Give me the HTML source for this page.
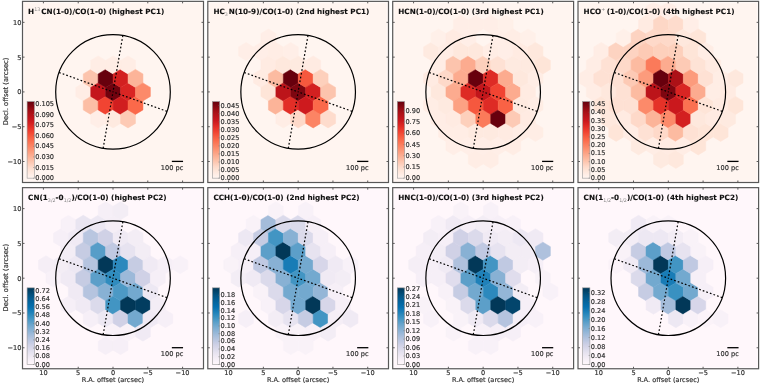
<!DOCTYPE html>
<html><head><meta charset="utf-8"><style>
html,body{margin:0;padding:0;background:#fff;width:760px;height:383px;overflow:hidden}
svg{display:block}
text{font-family:"DejaVu Sans","Liberation Sans",sans-serif;fill:#222}
.title{font-weight:bold;font-size:7.25px;fill:#111;stroke:#111;stroke-width:0.1px}
.title .sup,.title .sub{font-weight:normal;font-size:4.8px;fill:#888;stroke:none}
.lab{font-size:6.6px;fill:#333;stroke:#333;stroke-width:0.18px}
.cb{font-size:6.6px;fill:#333;stroke:#333;stroke-width:0.18px}
.dl{stroke:#000;stroke-width:1.2;stroke-dasharray:1.7 2.1;fill:none}
.tk{stroke:#333;stroke-width:0.8}
</style></head><body>
<svg width="760" height="383" viewBox="0 0 760 383">
<defs><linearGradient id="g0" x1="0" y1="0" x2="0" y2="1"><stop offset="0.000" stop-color="#67000d"/><stop offset="0.050" stop-color="#7e0610"/><stop offset="0.100" stop-color="#980c13"/><stop offset="0.150" stop-color="#ac1117"/><stop offset="0.200" stop-color="#bc141a"/><stop offset="0.250" stop-color="#ca181d"/><stop offset="0.300" stop-color="#d92523"/><stop offset="0.350" stop-color="#e83429"/><stop offset="0.400" stop-color="#f14432"/><stop offset="0.450" stop-color="#f6583e"/><stop offset="0.500" stop-color="#fb694a"/><stop offset="0.550" stop-color="#fb7a5a"/><stop offset="0.600" stop-color="#fc8a6a"/><stop offset="0.650" stop-color="#fc9b7c"/><stop offset="0.700" stop-color="#fcab8f"/><stop offset="0.750" stop-color="#fcbba1"/><stop offset="0.800" stop-color="#fdcab5"/><stop offset="0.850" stop-color="#fed9c9"/><stop offset="0.900" stop-color="#fee5d8"/><stop offset="0.950" stop-color="#ffede5"/><stop offset="1.000" stop-color="#fff5f0"/></linearGradient><linearGradient id="g1" x1="0" y1="0" x2="0" y2="1"><stop offset="0.000" stop-color="#023858"/><stop offset="0.050" stop-color="#03456c"/><stop offset="0.100" stop-color="#045382"/><stop offset="0.150" stop-color="#045e94"/><stop offset="0.200" stop-color="#0567a2"/><stop offset="0.250" stop-color="#056faf"/><stop offset="0.300" stop-color="#187cb6"/><stop offset="0.350" stop-color="#2c89bd"/><stop offset="0.400" stop-color="#4295c3"/><stop offset="0.450" stop-color="#5c9fc9"/><stop offset="0.500" stop-color="#73a9cf"/><stop offset="0.550" stop-color="#88b1d4"/><stop offset="0.600" stop-color="#9cb9d9"/><stop offset="0.650" stop-color="#afc1dd"/><stop offset="0.700" stop-color="#c0c9e2"/><stop offset="0.750" stop-color="#d0d1e6"/><stop offset="0.800" stop-color="#dbdaeb"/><stop offset="0.850" stop-color="#e7e3f0"/><stop offset="0.900" stop-color="#f0eaf4"/><stop offset="0.950" stop-color="#f8f1f8"/><stop offset="1.000" stop-color="#fff7fb"/></linearGradient></defs>
<rect x="0" y="0" width="760" height="383" fill="#fff"/>
<rect x="22.50" y="1.35" width="181.00" height="181.15" fill="#fff5f0"/>
<clipPath id="cp0"><rect x="22.50" y="1.35" width="181.00" height="181.15"/></clipPath>
<g clip-path="url(#cp0)">
<path d="M90.72,87.42 90.72,96.42 83.26,100.92 75.80,96.42 75.80,87.42 83.26,82.92Z" fill="#ffede5" stroke="#ffede5" stroke-width="0.5"/>
<path d="M98.18,73.92 98.18,82.92 90.72,87.42 83.26,82.92 83.26,73.92 90.72,69.42Z" fill="#fcc4ad" stroke="#fcc4ad" stroke-width="0.5"/>
<path d="M98.18,100.92 98.18,109.92 90.72,114.42 83.26,109.92 83.26,100.92 90.72,96.42Z" fill="#fcbea5" stroke="#fcbea5" stroke-width="0.5"/>
<path d="M105.64,60.42 105.64,69.42 98.18,73.92 90.72,69.42 90.72,60.42 98.18,55.92Z" fill="#ffede5" stroke="#ffede5" stroke-width="0.5"/>
<path d="M105.64,87.42 105.64,96.42 98.18,100.92 90.72,96.42 90.72,87.42 98.18,82.92Z" fill="#c4161c" stroke="#c4161c" stroke-width="0.5"/>
<path d="M105.64,114.42 105.64,123.42 98.18,127.92 90.72,123.42 90.72,114.42 98.18,109.92Z" fill="#ffeee7" stroke="#ffeee7" stroke-width="0.5"/>
<path d="M113.10,73.92 113.10,82.92 105.64,87.42 98.18,82.92 98.18,73.92 105.64,69.42Z" fill="#67000d" stroke="#67000d" stroke-width="0.5"/>
<path d="M113.10,100.92 113.10,109.92 105.64,114.42 98.18,109.92 98.18,100.92 105.64,96.42Z" fill="#f14432" stroke="#f14432" stroke-width="0.5"/>
<path d="M120.56,60.42 120.56,69.42 113.10,73.92 105.64,69.42 105.64,60.42 113.10,55.92Z" fill="#ffede5" stroke="#ffede5" stroke-width="0.5"/>
<path d="M120.56,87.42 120.56,96.42 113.10,100.92 105.64,96.42 105.64,87.42 113.10,82.92Z" fill="#71020e" stroke="#71020e" stroke-width="0.5"/>
<path d="M120.56,114.42 120.56,123.42 113.10,127.92 105.64,123.42 105.64,114.42 113.10,109.92Z" fill="#feeae0" stroke="#feeae0" stroke-width="0.5"/>
<path d="M128.02,73.92 128.02,82.92 120.56,87.42 113.10,82.92 113.10,73.92 120.56,69.42Z" fill="#d32020" stroke="#d32020" stroke-width="0.5"/>
<path d="M128.02,100.92 128.02,109.92 120.56,114.42 113.10,109.92 113.10,100.92 120.56,96.42Z" fill="#d11e1f" stroke="#d11e1f" stroke-width="0.5"/>
<path d="M135.48,60.42 135.48,69.42 128.02,73.92 120.56,69.42 120.56,60.42 128.02,55.92Z" fill="#ffede5" stroke="#ffede5" stroke-width="0.5"/>
<path d="M135.48,87.42 135.48,96.42 128.02,100.92 120.56,96.42 120.56,87.42 128.02,82.92Z" fill="#d92523" stroke="#d92523" stroke-width="0.5"/>
<path d="M135.48,114.42 135.48,123.42 128.02,127.92 120.56,123.42 120.56,114.42 128.02,109.92Z" fill="#fdcab5" stroke="#fdcab5" stroke-width="0.5"/>
<path d="M142.94,73.92 142.94,82.92 135.48,87.42 128.02,82.92 128.02,73.92 135.48,69.42Z" fill="#fcb499" stroke="#fcb499" stroke-width="0.5"/>
<path d="M142.94,100.92 142.94,109.92 135.48,114.42 128.02,109.92 128.02,100.92 135.48,96.42Z" fill="#fb694a" stroke="#fb694a" stroke-width="0.5"/>
<path d="M150.40,87.42 150.40,96.42 142.94,100.92 135.48,96.42 135.48,87.42 142.94,82.92Z" fill="#fc8a6a" stroke="#fc8a6a" stroke-width="0.5"/>
</g>
<rect x="23.90" y="2.75" width="178.20" height="178.35" fill="none" stroke="#fff" stroke-opacity="0.55" stroke-width="1"/>
<circle cx="113.00" cy="91.92" r="57.3" fill="none" stroke="#000" stroke-width="1.2"/>
<path class="dl" d="M122.85,35.48L113.00,91.92M103.15,148.37L113.00,91.92"/>
<path class="dl" d="M59.09,72.52L113.00,91.92M166.91,111.33L113.00,91.92"/>
<rect x="27.10" y="101.55" width="7.30" height="76.60" fill="url(#g0)" stroke="#999" stroke-width="0.6"/>
<line x1="33.10" y1="178.15" x2="34.40" y2="178.15" stroke="#777" stroke-width="0.5"/>
<text class="cb" x="35.20" y="180.20">0.000</text>
<line x1="33.10" y1="167.55" x2="34.40" y2="167.55" stroke="#777" stroke-width="0.5"/>
<text class="cb" x="35.20" y="169.60">0.015</text>
<line x1="33.10" y1="156.95" x2="34.40" y2="156.95" stroke="#777" stroke-width="0.5"/>
<text class="cb" x="35.20" y="159.00">0.030</text>
<line x1="33.10" y1="146.35" x2="34.40" y2="146.35" stroke="#777" stroke-width="0.5"/>
<text class="cb" x="35.20" y="148.40">0.045</text>
<line x1="33.10" y1="135.75" x2="34.40" y2="135.75" stroke="#777" stroke-width="0.5"/>
<text class="cb" x="35.20" y="137.80">0.060</text>
<line x1="33.10" y1="125.15" x2="34.40" y2="125.15" stroke="#777" stroke-width="0.5"/>
<text class="cb" x="35.20" y="127.20">0.075</text>
<line x1="33.10" y1="114.55" x2="34.40" y2="114.55" stroke="#777" stroke-width="0.5"/>
<text class="cb" x="35.20" y="116.60">0.090</text>
<line x1="33.10" y1="103.95" x2="34.40" y2="103.95" stroke="#777" stroke-width="0.5"/>
<text class="cb" x="35.20" y="106.00">0.105</text>
<line x1="171.85" y1="161.40" x2="183.05" y2="161.40" stroke="#000" stroke-width="1.3"/>
<text class="lab" x="183.30" y="169.55" text-anchor="end">100 pc</text>
<text class="title" x="28.10" y="13.65">H<tspan class="sup" dy="-2.6">13</tspan><tspan dy="2.6" dx="1">CN(1-0)/CO(1-0) (highest PC1)</tspan></text>
<line class="tk" x1="43.42" y1="1.35" x2="43.42" y2="3.35"/>
<line class="tk" x1="43.42" y1="182.50" x2="43.42" y2="180.50"/>
<line class="tk" x1="22.50" y1="22.35" x2="24.50" y2="22.35"/>
<line class="tk" x1="203.50" y1="22.35" x2="201.50" y2="22.35"/>
<text class="lab" x="21.50" y="24.75" text-anchor="end">10</text>
<line class="tk" x1="78.21" y1="1.35" x2="78.21" y2="3.35"/>
<line class="tk" x1="78.21" y1="182.50" x2="78.21" y2="180.50"/>
<line class="tk" x1="22.50" y1="57.14" x2="24.50" y2="57.14"/>
<line class="tk" x1="203.50" y1="57.14" x2="201.50" y2="57.14"/>
<text class="lab" x="21.50" y="59.54" text-anchor="end">5</text>
<line class="tk" x1="113.00" y1="1.35" x2="113.00" y2="3.35"/>
<line class="tk" x1="113.00" y1="182.50" x2="113.00" y2="180.50"/>
<line class="tk" x1="22.50" y1="91.92" x2="24.50" y2="91.92"/>
<line class="tk" x1="203.50" y1="91.92" x2="201.50" y2="91.92"/>
<text class="lab" x="21.50" y="94.33" text-anchor="end">0</text>
<line class="tk" x1="147.79" y1="1.35" x2="147.79" y2="3.35"/>
<line class="tk" x1="147.79" y1="182.50" x2="147.79" y2="180.50"/>
<line class="tk" x1="22.50" y1="126.71" x2="24.50" y2="126.71"/>
<line class="tk" x1="203.50" y1="126.71" x2="201.50" y2="126.71"/>
<text class="lab" x="21.50" y="129.11" text-anchor="end">−5</text>
<line class="tk" x1="182.58" y1="1.35" x2="182.58" y2="3.35"/>
<line class="tk" x1="182.58" y1="182.50" x2="182.58" y2="180.50"/>
<line class="tk" x1="22.50" y1="161.50" x2="24.50" y2="161.50"/>
<line class="tk" x1="203.50" y1="161.50" x2="201.50" y2="161.50"/>
<text class="lab" x="21.50" y="163.90" text-anchor="end">−10</text>
<text class="lab" style="font-size:6.75px" transform="translate(7.50,91.33) rotate(-90)" text-anchor="middle">Decl. offset (arcsec)</text>
<rect x="22.50" y="1.35" width="181.00" height="181.15" fill="none" stroke="#585858" stroke-width="1.2"/>
<rect x="207.80" y="1.35" width="180.70" height="181.15" fill="#fff5f0"/>
<clipPath id="cp1"><rect x="207.80" y="1.35" width="180.70" height="181.15"/></clipPath>
<g clip-path="url(#cp1)">
<path d="M253.49,46.92 253.49,55.92 246.03,60.42 238.57,55.92 238.57,46.92 246.03,42.42Z" fill="#ffeee7" stroke="#ffeee7" stroke-width="0.5"/>
<path d="M268.41,46.92 268.41,55.92 260.95,60.42 253.49,55.92 253.49,46.92 260.95,42.42Z" fill="#ffeee7" stroke="#ffeee7" stroke-width="0.5"/>
<path d="M268.41,73.92 268.41,82.92 260.95,87.42 253.49,82.92 253.49,73.92 260.95,69.42Z" fill="#ffebe2" stroke="#ffebe2" stroke-width="0.5"/>
<path d="M275.87,33.42 275.87,42.42 268.41,46.92 260.95,42.42 260.95,33.42 268.41,28.92Z" fill="#ffeee7" stroke="#ffeee7" stroke-width="0.5"/>
<path d="M275.87,60.42 275.87,69.42 268.41,73.92 260.95,69.42 260.95,60.42 268.41,55.92Z" fill="#ffebe2" stroke="#ffebe2" stroke-width="0.5"/>
<path d="M275.87,87.42 275.87,96.42 268.41,100.92 260.95,96.42 260.95,87.42 268.41,82.92Z" fill="#fee5d8" stroke="#fee5d8" stroke-width="0.5"/>
<path d="M283.33,46.92 283.33,55.92 275.87,60.42 268.41,55.92 268.41,46.92 275.87,42.42Z" fill="#ffede5" stroke="#ffede5" stroke-width="0.5"/>
<path d="M283.33,73.92 283.33,82.92 275.87,87.42 268.41,82.92 268.41,73.92 275.87,69.42Z" fill="#fcbba1" stroke="#fcbba1" stroke-width="0.5"/>
<path d="M283.33,100.92 283.33,109.92 275.87,114.42 268.41,109.92 268.41,100.92 275.87,96.42Z" fill="#fcb499" stroke="#fcb499" stroke-width="0.5"/>
<path d="M290.79,60.42 290.79,69.42 283.33,73.92 275.87,69.42 275.87,60.42 283.33,55.92Z" fill="#fee8dd" stroke="#fee8dd" stroke-width="0.5"/>
<path d="M290.79,87.42 290.79,96.42 283.33,100.92 275.87,96.42 275.87,87.42 283.33,82.92Z" fill="#bc141a" stroke="#bc141a" stroke-width="0.5"/>
<path d="M290.79,114.42 290.79,123.42 283.33,127.92 275.87,123.42 275.87,114.42 283.33,109.92Z" fill="#ffede5" stroke="#ffede5" stroke-width="0.5"/>
<path d="M298.25,46.92 298.25,55.92 290.79,60.42 283.33,55.92 283.33,46.92 290.79,42.42Z" fill="#ffeee7" stroke="#ffeee7" stroke-width="0.5"/>
<path d="M298.25,73.92 298.25,82.92 290.79,87.42 283.33,82.92 283.33,73.92 290.79,69.42Z" fill="#67000d" stroke="#67000d" stroke-width="0.5"/>
<path d="M298.25,100.92 298.25,109.92 290.79,114.42 283.33,109.92 283.33,100.92 290.79,96.42Z" fill="#e22e27" stroke="#e22e27" stroke-width="0.5"/>
<path d="M305.71,60.42 305.71,69.42 298.25,73.92 290.79,69.42 290.79,60.42 298.25,55.92Z" fill="#feeae0" stroke="#feeae0" stroke-width="0.5"/>
<path d="M305.71,87.42 305.71,96.42 298.25,100.92 290.79,96.42 290.79,87.42 298.25,82.92Z" fill="#7e0610" stroke="#7e0610" stroke-width="0.5"/>
<path d="M305.71,114.42 305.71,123.42 298.25,127.92 290.79,123.42 290.79,114.42 298.25,109.92Z" fill="#fed9c9" stroke="#fed9c9" stroke-width="0.5"/>
<path d="M313.17,73.92 313.17,82.92 305.71,87.42 298.25,82.92 298.25,73.92 305.71,69.42Z" fill="#f6583e" stroke="#f6583e" stroke-width="0.5"/>
<path d="M313.17,100.92 313.17,109.92 305.71,114.42 298.25,109.92 298.25,100.92 305.71,96.42Z" fill="#ce1a1e" stroke="#ce1a1e" stroke-width="0.5"/>
<path d="M320.63,60.42 320.63,69.42 313.17,73.92 305.71,69.42 305.71,60.42 313.17,55.92Z" fill="#ffebe2" stroke="#ffebe2" stroke-width="0.5"/>
<path d="M320.63,87.42 320.63,96.42 313.17,100.92 305.71,96.42 305.71,87.42 313.17,82.92Z" fill="#d32020" stroke="#d32020" stroke-width="0.5"/>
<path d="M320.63,114.42 320.63,123.42 313.17,127.92 305.71,123.42 305.71,114.42 313.17,109.92Z" fill="#fc8464" stroke="#fc8464" stroke-width="0.5"/>
<path d="M328.09,73.92 328.09,82.92 320.63,87.42 313.17,82.92 313.17,73.92 320.63,69.42Z" fill="#fdd0bc" stroke="#fdd0bc" stroke-width="0.5"/>
<path d="M328.09,100.92 328.09,109.92 320.63,114.42 313.17,109.92 313.17,100.92 320.63,96.42Z" fill="#fb694a" stroke="#fb694a" stroke-width="0.5"/>
<path d="M335.55,87.42 335.55,96.42 328.09,100.92 320.63,96.42 320.63,87.42 328.09,82.92Z" fill="#fcc4ad" stroke="#fcc4ad" stroke-width="0.5"/>
<path d="M335.55,114.42 335.55,123.42 328.09,127.92 320.63,123.42 320.63,114.42 328.09,109.92Z" fill="#fedccd" stroke="#fedccd" stroke-width="0.5"/>
</g>
<rect x="209.20" y="2.75" width="177.90" height="178.35" fill="none" stroke="#fff" stroke-opacity="0.55" stroke-width="1"/>
<circle cx="298.15" cy="91.92" r="57.3" fill="none" stroke="#000" stroke-width="1.2"/>
<path class="dl" d="M308.00,35.48L298.15,91.92M288.30,148.37L298.15,91.92"/>
<path class="dl" d="M244.24,72.52L298.15,91.92M352.06,111.33L298.15,91.92"/>
<rect x="212.40" y="101.55" width="7.30" height="76.60" fill="url(#g0)" stroke="#999" stroke-width="0.6"/>
<line x1="218.40" y1="178.15" x2="219.70" y2="178.15" stroke="#777" stroke-width="0.5"/>
<text class="cb" x="220.50" y="180.20">0.000</text>
<line x1="218.40" y1="170.09" x2="219.70" y2="170.09" stroke="#777" stroke-width="0.5"/>
<text class="cb" x="220.50" y="172.14">0.005</text>
<line x1="218.40" y1="162.02" x2="219.70" y2="162.02" stroke="#777" stroke-width="0.5"/>
<text class="cb" x="220.50" y="164.07">0.010</text>
<line x1="218.40" y1="153.96" x2="219.70" y2="153.96" stroke="#777" stroke-width="0.5"/>
<text class="cb" x="220.50" y="156.01">0.015</text>
<line x1="218.40" y1="145.90" x2="219.70" y2="145.90" stroke="#777" stroke-width="0.5"/>
<text class="cb" x="220.50" y="147.95">0.020</text>
<line x1="218.40" y1="137.83" x2="219.70" y2="137.83" stroke="#777" stroke-width="0.5"/>
<text class="cb" x="220.50" y="139.88">0.025</text>
<line x1="218.40" y1="129.77" x2="219.70" y2="129.77" stroke="#777" stroke-width="0.5"/>
<text class="cb" x="220.50" y="131.82">0.030</text>
<line x1="218.40" y1="121.71" x2="219.70" y2="121.71" stroke="#777" stroke-width="0.5"/>
<text class="cb" x="220.50" y="123.76">0.035</text>
<line x1="218.40" y1="113.64" x2="219.70" y2="113.64" stroke="#777" stroke-width="0.5"/>
<text class="cb" x="220.50" y="115.69">0.040</text>
<line x1="218.40" y1="105.58" x2="219.70" y2="105.58" stroke="#777" stroke-width="0.5"/>
<text class="cb" x="220.50" y="107.63">0.045</text>
<line x1="357.15" y1="161.40" x2="368.35" y2="161.40" stroke="#000" stroke-width="1.3"/>
<text class="lab" x="368.60" y="169.55" text-anchor="end">100 pc</text>
<text class="title" x="213.40" y="13.65">HC<tspan class="sub" dy="2.5">3</tspan><tspan dy="-2.5" dx="0.8">N(10-9)/CO(1-0) (2nd highest PC1)</tspan></text>
<line class="tk" x1="228.57" y1="1.35" x2="228.57" y2="3.35"/>
<line class="tk" x1="228.57" y1="182.50" x2="228.57" y2="180.50"/>
<line class="tk" x1="207.80" y1="22.35" x2="209.80" y2="22.35"/>
<line class="tk" x1="388.50" y1="22.35" x2="386.50" y2="22.35"/>
<line class="tk" x1="263.36" y1="1.35" x2="263.36" y2="3.35"/>
<line class="tk" x1="263.36" y1="182.50" x2="263.36" y2="180.50"/>
<line class="tk" x1="207.80" y1="57.14" x2="209.80" y2="57.14"/>
<line class="tk" x1="388.50" y1="57.14" x2="386.50" y2="57.14"/>
<line class="tk" x1="298.15" y1="1.35" x2="298.15" y2="3.35"/>
<line class="tk" x1="298.15" y1="182.50" x2="298.15" y2="180.50"/>
<line class="tk" x1="207.80" y1="91.92" x2="209.80" y2="91.92"/>
<line class="tk" x1="388.50" y1="91.92" x2="386.50" y2="91.92"/>
<line class="tk" x1="332.94" y1="1.35" x2="332.94" y2="3.35"/>
<line class="tk" x1="332.94" y1="182.50" x2="332.94" y2="180.50"/>
<line class="tk" x1="207.80" y1="126.71" x2="209.80" y2="126.71"/>
<line class="tk" x1="388.50" y1="126.71" x2="386.50" y2="126.71"/>
<line class="tk" x1="367.73" y1="1.35" x2="367.73" y2="3.35"/>
<line class="tk" x1="367.73" y1="182.50" x2="367.73" y2="180.50"/>
<line class="tk" x1="207.80" y1="161.50" x2="209.80" y2="161.50"/>
<line class="tk" x1="388.50" y1="161.50" x2="386.50" y2="161.50"/>
<rect x="207.80" y="1.35" width="180.70" height="181.15" fill="none" stroke="#585858" stroke-width="1.2"/>
<rect x="392.70" y="1.35" width="180.90" height="181.15" fill="#fff5f0"/>
<clipPath id="cp2"><rect x="392.70" y="1.35" width="180.90" height="181.15"/></clipPath>
<g clip-path="url(#cp2)">
<path d="M438.49,46.92 438.49,55.92 431.03,60.42 423.57,55.92 423.57,46.92 431.03,42.42Z" fill="#feeae0" stroke="#feeae0" stroke-width="0.5"/>
<path d="M438.49,73.92 438.49,82.92 431.03,87.42 423.57,82.92 423.57,73.92 431.03,69.42Z" fill="#ffebe2" stroke="#ffebe2" stroke-width="0.5"/>
<path d="M438.49,100.92 438.49,109.92 431.03,114.42 423.57,109.92 423.57,100.92 431.03,96.42Z" fill="#ffede5" stroke="#ffede5" stroke-width="0.5"/>
<path d="M445.95,33.42 445.95,42.42 438.49,46.92 431.03,42.42 431.03,33.42 438.49,28.92Z" fill="#fff0e9" stroke="#fff0e9" stroke-width="0.5"/>
<path d="M445.95,60.42 445.95,69.42 438.49,73.92 431.03,69.42 431.03,60.42 438.49,55.92Z" fill="#ffede5" stroke="#ffede5" stroke-width="0.5"/>
<path d="M445.95,87.42 445.95,96.42 438.49,100.92 431.03,96.42 431.03,87.42 438.49,82.92Z" fill="#fee8dd" stroke="#fee8dd" stroke-width="0.5"/>
<path d="M445.95,114.42 445.95,123.42 438.49,127.92 431.03,123.42 431.03,114.42 438.49,109.92Z" fill="#ffede5" stroke="#ffede5" stroke-width="0.5"/>
<path d="M453.41,46.92 453.41,55.92 445.95,60.42 438.49,55.92 438.49,46.92 445.95,42.42Z" fill="#ffede5" stroke="#ffede5" stroke-width="0.5"/>
<path d="M453.41,73.92 453.41,82.92 445.95,87.42 438.49,82.92 438.49,73.92 445.95,69.42Z" fill="#fed9c9" stroke="#fed9c9" stroke-width="0.5"/>
<path d="M453.41,100.92 453.41,109.92 445.95,114.42 438.49,109.92 438.49,100.92 445.95,96.42Z" fill="#feeae0" stroke="#feeae0" stroke-width="0.5"/>
<path d="M453.41,127.93 453.41,136.93 445.95,141.43 438.49,136.93 438.49,127.93 445.95,123.43Z" fill="#ffede5" stroke="#ffede5" stroke-width="0.5"/>
<path d="M460.87,33.42 460.87,42.42 453.41,46.92 445.95,42.42 445.95,33.42 453.41,28.92Z" fill="#ffebe2" stroke="#ffebe2" stroke-width="0.5"/>
<path d="M460.87,60.42 460.87,69.42 453.41,73.92 445.95,69.42 445.95,60.42 453.41,55.92Z" fill="#fcc4ad" stroke="#fcc4ad" stroke-width="0.5"/>
<path d="M460.87,87.42 460.87,96.42 453.41,100.92 445.95,96.42 445.95,87.42 453.41,82.92Z" fill="#fcab8f" stroke="#fcab8f" stroke-width="0.5"/>
<path d="M460.87,114.42 460.87,123.42 453.41,127.92 445.95,123.42 445.95,114.42 453.41,109.92Z" fill="#ffebe2" stroke="#ffebe2" stroke-width="0.5"/>
<path d="M460.87,141.43 460.87,150.43 453.41,154.93 445.95,150.43 445.95,141.43 453.41,136.93Z" fill="#ffeee7" stroke="#ffeee7" stroke-width="0.5"/>
<path d="M468.33,19.92 468.33,28.92 460.87,33.42 453.41,28.92 453.41,19.92 460.87,15.42Z" fill="#ffeee7" stroke="#ffeee7" stroke-width="0.5"/>
<path d="M468.33,46.92 468.33,55.92 460.87,60.42 453.41,55.92 453.41,46.92 460.87,42.42Z" fill="#fee8dd" stroke="#fee8dd" stroke-width="0.5"/>
<path d="M468.33,73.92 468.33,82.92 460.87,87.42 453.41,82.92 453.41,73.92 460.87,69.42Z" fill="#fcab8f" stroke="#fcab8f" stroke-width="0.5"/>
<path d="M468.33,100.92 468.33,109.92 460.87,114.42 453.41,109.92 453.41,100.92 460.87,96.42Z" fill="#fca183" stroke="#fca183" stroke-width="0.5"/>
<path d="M468.33,127.93 468.33,136.93 460.87,141.43 453.41,136.93 453.41,127.93 460.87,123.43Z" fill="#ffede5" stroke="#ffede5" stroke-width="0.5"/>
<path d="M475.79,33.42 475.79,42.42 468.33,46.92 460.87,42.42 460.87,33.42 468.33,28.92Z" fill="#ffeee7" stroke="#ffeee7" stroke-width="0.5"/>
<path d="M475.79,60.42 475.79,69.42 468.33,73.92 460.87,69.42 460.87,60.42 468.33,55.92Z" fill="#fcab8f" stroke="#fcab8f" stroke-width="0.5"/>
<path d="M475.79,87.42 475.79,96.42 468.33,100.92 460.87,96.42 460.87,87.42 468.33,82.92Z" fill="#de2b25" stroke="#de2b25" stroke-width="0.5"/>
<path d="M475.79,114.42 475.79,123.42 468.33,127.92 460.87,123.42 460.87,114.42 468.33,109.92Z" fill="#fdd0bc" stroke="#fdd0bc" stroke-width="0.5"/>
<path d="M475.79,141.43 475.79,150.43 468.33,154.93 460.87,150.43 460.87,141.43 468.33,136.93Z" fill="#ffeee7" stroke="#ffeee7" stroke-width="0.5"/>
<path d="M483.25,19.92 483.25,28.92 475.79,33.42 468.33,28.92 468.33,19.92 475.79,15.42Z" fill="#ffeee7" stroke="#ffeee7" stroke-width="0.5"/>
<path d="M483.25,46.92 483.25,55.92 475.79,60.42 468.33,55.92 468.33,46.92 475.79,42.42Z" fill="#fee8dd" stroke="#fee8dd" stroke-width="0.5"/>
<path d="M483.25,73.92 483.25,82.92 475.79,87.42 468.33,82.92 468.33,73.92 475.79,69.42Z" fill="#67000d" stroke="#67000d" stroke-width="0.5"/>
<path d="M483.25,100.92 483.25,109.92 475.79,114.42 468.33,109.92 468.33,100.92 475.79,96.42Z" fill="#f6583e" stroke="#f6583e" stroke-width="0.5"/>
<path d="M483.25,127.93 483.25,136.93 475.79,141.43 468.33,136.93 468.33,127.93 475.79,123.43Z" fill="#feeae0" stroke="#feeae0" stroke-width="0.5"/>
<path d="M483.25,154.93 483.25,163.93 475.79,168.43 468.33,163.93 468.33,154.93 475.79,150.43Z" fill="#ffede5" stroke="#ffede5" stroke-width="0.5"/>
<path d="M490.71,60.42 490.71,69.42 483.25,73.92 475.79,69.42 475.79,60.42 483.25,55.92Z" fill="#fdd0bc" stroke="#fdd0bc" stroke-width="0.5"/>
<path d="M490.71,87.42 490.71,96.42 483.25,100.92 475.79,96.42 475.79,87.42 483.25,82.92Z" fill="#c2161b" stroke="#c2161b" stroke-width="0.5"/>
<path d="M490.71,114.42 490.71,123.42 483.25,127.92 475.79,123.42 475.79,114.42 483.25,109.92Z" fill="#fb7a5a" stroke="#fb7a5a" stroke-width="0.5"/>
<path d="M490.71,141.43 490.71,150.43 483.25,154.93 475.79,150.43 475.79,141.43 483.25,136.93Z" fill="#ffeee7" stroke="#ffeee7" stroke-width="0.5"/>
<path d="M498.17,19.92 498.17,28.92 490.71,33.42 483.25,28.92 483.25,19.92 490.71,15.42Z" fill="#ffeee7" stroke="#ffeee7" stroke-width="0.5"/>
<path d="M498.17,46.92 498.17,55.92 490.71,60.42 483.25,55.92 483.25,46.92 490.71,42.42Z" fill="#ffede5" stroke="#ffede5" stroke-width="0.5"/>
<path d="M498.17,73.92 498.17,82.92 490.71,87.42 483.25,82.92 483.25,73.92 490.71,69.42Z" fill="#de2b25" stroke="#de2b25" stroke-width="0.5"/>
<path d="M498.17,100.92 498.17,109.92 490.71,114.42 483.25,109.92 483.25,100.92 490.71,96.42Z" fill="#de2b25" stroke="#de2b25" stroke-width="0.5"/>
<path d="M498.17,127.93 498.17,136.93 490.71,141.43 483.25,136.93 483.25,127.93 490.71,123.43Z" fill="#feeae0" stroke="#feeae0" stroke-width="0.5"/>
<path d="M498.17,154.93 498.17,163.93 490.71,168.43 483.25,163.93 483.25,154.93 490.71,150.43Z" fill="#ffede5" stroke="#ffede5" stroke-width="0.5"/>
<path d="M505.63,33.42 505.63,42.42 498.17,46.92 490.71,42.42 490.71,33.42 498.17,28.92Z" fill="#ffeee7" stroke="#ffeee7" stroke-width="0.5"/>
<path d="M505.63,60.42 505.63,69.42 498.17,73.92 490.71,69.42 490.71,60.42 498.17,55.92Z" fill="#fee1d4" stroke="#fee1d4" stroke-width="0.5"/>
<path d="M505.63,87.42 505.63,96.42 498.17,100.92 490.71,96.42 490.71,87.42 498.17,82.92Z" fill="#f14432" stroke="#f14432" stroke-width="0.5"/>
<path d="M505.63,114.42 505.63,123.42 498.17,127.92 490.71,123.42 490.71,114.42 498.17,109.92Z" fill="#67000d" stroke="#67000d" stroke-width="0.5"/>
<path d="M505.63,141.43 505.63,150.43 498.17,154.93 490.71,150.43 490.71,141.43 498.17,136.93Z" fill="#ffeee7" stroke="#ffeee7" stroke-width="0.5"/>
<path d="M513.09,19.92 513.09,28.92 505.63,33.42 498.17,28.92 498.17,19.92 505.63,15.42Z" fill="#fff0e9" stroke="#fff0e9" stroke-width="0.5"/>
<path d="M513.09,46.92 513.09,55.92 505.63,60.42 498.17,55.92 498.17,46.92 505.63,42.42Z" fill="#ffeee7" stroke="#ffeee7" stroke-width="0.5"/>
<path d="M513.09,73.92 513.09,82.92 505.63,87.42 498.17,82.92 498.17,73.92 505.63,69.42Z" fill="#fcab8f" stroke="#fcab8f" stroke-width="0.5"/>
<path d="M513.09,100.92 513.09,109.92 505.63,114.42 498.17,109.92 498.17,100.92 505.63,96.42Z" fill="#f96245" stroke="#f96245" stroke-width="0.5"/>
<path d="M513.09,127.93 513.09,136.93 505.63,141.43 498.17,136.93 498.17,127.93 505.63,123.43Z" fill="#ffebe2" stroke="#ffebe2" stroke-width="0.5"/>
<path d="M520.55,33.42 520.55,42.42 513.09,46.92 505.63,42.42 505.63,33.42 513.09,28.92Z" fill="#ffede5" stroke="#ffede5" stroke-width="0.5"/>
<path d="M520.55,60.42 520.55,69.42 513.09,73.92 505.63,69.42 505.63,60.42 513.09,55.92Z" fill="#feeae0" stroke="#feeae0" stroke-width="0.5"/>
<path d="M520.55,87.42 520.55,96.42 513.09,100.92 505.63,96.42 505.63,87.42 513.09,82.92Z" fill="#fcab8f" stroke="#fcab8f" stroke-width="0.5"/>
<path d="M520.55,114.42 520.55,123.42 513.09,127.92 505.63,123.42 505.63,114.42 513.09,109.92Z" fill="#fdcab5" stroke="#fdcab5" stroke-width="0.5"/>
<path d="M520.55,141.43 520.55,150.43 513.09,154.93 505.63,150.43 505.63,141.43 513.09,136.93Z" fill="#ffede5" stroke="#ffede5" stroke-width="0.5"/>
<path d="M528.01,46.92 528.01,55.92 520.55,60.42 513.09,55.92 513.09,46.92 520.55,42.42Z" fill="#ffebe2" stroke="#ffebe2" stroke-width="0.5"/>
<path d="M528.01,73.92 528.01,82.92 520.55,87.42 513.09,82.92 513.09,73.92 520.55,69.42Z" fill="#fee8dd" stroke="#fee8dd" stroke-width="0.5"/>
<path d="M528.01,100.92 528.01,109.92 520.55,114.42 513.09,109.92 513.09,100.92 520.55,96.42Z" fill="#feeae0" stroke="#feeae0" stroke-width="0.5"/>
<path d="M528.01,127.93 528.01,136.93 520.55,141.43 513.09,136.93 513.09,127.93 520.55,123.43Z" fill="#ffede5" stroke="#ffede5" stroke-width="0.5"/>
<path d="M535.47,33.42 535.47,42.42 528.01,46.92 520.55,42.42 520.55,33.42 528.01,28.92Z" fill="#fff0e9" stroke="#fff0e9" stroke-width="0.5"/>
<path d="M535.47,60.42 535.47,69.42 528.01,73.92 520.55,69.42 520.55,60.42 528.01,55.92Z" fill="#feeae0" stroke="#feeae0" stroke-width="0.5"/>
<path d="M535.47,87.42 535.47,96.42 528.01,100.92 520.55,96.42 520.55,87.42 528.01,82.92Z" fill="#ffebe2" stroke="#ffebe2" stroke-width="0.5"/>
<path d="M535.47,114.42 535.47,123.42 528.01,127.92 520.55,123.42 520.55,114.42 528.01,109.92Z" fill="#ffebe2" stroke="#ffebe2" stroke-width="0.5"/>
<path d="M542.93,46.92 542.93,55.92 535.47,60.42 528.01,55.92 528.01,46.92 535.47,42.42Z" fill="#fee8dd" stroke="#fee8dd" stroke-width="0.5"/>
<path d="M542.93,73.92 542.93,82.92 535.47,87.42 528.01,82.92 528.01,73.92 535.47,69.42Z" fill="#ffede5" stroke="#ffede5" stroke-width="0.5"/>
<path d="M542.93,100.92 542.93,109.92 535.47,114.42 528.01,109.92 528.01,100.92 535.47,96.42Z" fill="#ffede5" stroke="#ffede5" stroke-width="0.5"/>
<path d="M542.93,127.93 542.93,136.93 535.47,141.43 528.01,136.93 528.01,127.93 535.47,123.43Z" fill="#ffede5" stroke="#ffede5" stroke-width="0.5"/>
<path d="M550.39,60.42 550.39,69.42 542.93,73.92 535.47,69.42 535.47,60.42 542.93,55.92Z" fill="#fee5d8" stroke="#fee5d8" stroke-width="0.5"/>
</g>
<rect x="394.10" y="2.75" width="178.10" height="178.35" fill="none" stroke="#fff" stroke-opacity="0.55" stroke-width="1"/>
<circle cx="483.15" cy="91.92" r="57.3" fill="none" stroke="#000" stroke-width="1.2"/>
<path class="dl" d="M493.00,35.48L483.15,91.92M473.30,148.37L483.15,91.92"/>
<path class="dl" d="M429.24,72.52L483.15,91.92M537.06,111.33L483.15,91.92"/>
<rect x="397.30" y="101.55" width="7.30" height="76.60" fill="url(#g0)" stroke="#999" stroke-width="0.6"/>
<line x1="403.30" y1="178.15" x2="404.60" y2="178.15" stroke="#777" stroke-width="0.5"/>
<text class="cb" x="405.40" y="180.20">0.00</text>
<line x1="403.30" y1="166.97" x2="404.60" y2="166.97" stroke="#777" stroke-width="0.5"/>
<text class="cb" x="405.40" y="169.02">0.15</text>
<line x1="403.30" y1="155.80" x2="404.60" y2="155.80" stroke="#777" stroke-width="0.5"/>
<text class="cb" x="405.40" y="157.85">0.30</text>
<line x1="403.30" y1="144.62" x2="404.60" y2="144.62" stroke="#777" stroke-width="0.5"/>
<text class="cb" x="405.40" y="146.67">0.45</text>
<line x1="403.30" y1="133.44" x2="404.60" y2="133.44" stroke="#777" stroke-width="0.5"/>
<text class="cb" x="405.40" y="135.49">0.60</text>
<line x1="403.30" y1="122.26" x2="404.60" y2="122.26" stroke="#777" stroke-width="0.5"/>
<text class="cb" x="405.40" y="124.31">0.75</text>
<line x1="403.30" y1="111.09" x2="404.60" y2="111.09" stroke="#777" stroke-width="0.5"/>
<text class="cb" x="405.40" y="113.14">0.90</text>
<line x1="542.05" y1="161.40" x2="553.25" y2="161.40" stroke="#000" stroke-width="1.3"/>
<text class="lab" x="553.50" y="169.55" text-anchor="end">100 pc</text>
<text class="title" x="398.30" y="13.65">HCN(1-0)/CO(1-0) (3rd highest PC1)</text>
<line class="tk" x1="413.57" y1="1.35" x2="413.57" y2="3.35"/>
<line class="tk" x1="413.57" y1="182.50" x2="413.57" y2="180.50"/>
<line class="tk" x1="392.70" y1="22.35" x2="394.70" y2="22.35"/>
<line class="tk" x1="573.60" y1="22.35" x2="571.60" y2="22.35"/>
<line class="tk" x1="448.36" y1="1.35" x2="448.36" y2="3.35"/>
<line class="tk" x1="448.36" y1="182.50" x2="448.36" y2="180.50"/>
<line class="tk" x1="392.70" y1="57.14" x2="394.70" y2="57.14"/>
<line class="tk" x1="573.60" y1="57.14" x2="571.60" y2="57.14"/>
<line class="tk" x1="483.15" y1="1.35" x2="483.15" y2="3.35"/>
<line class="tk" x1="483.15" y1="182.50" x2="483.15" y2="180.50"/>
<line class="tk" x1="392.70" y1="91.92" x2="394.70" y2="91.92"/>
<line class="tk" x1="573.60" y1="91.92" x2="571.60" y2="91.92"/>
<line class="tk" x1="517.94" y1="1.35" x2="517.94" y2="3.35"/>
<line class="tk" x1="517.94" y1="182.50" x2="517.94" y2="180.50"/>
<line class="tk" x1="392.70" y1="126.71" x2="394.70" y2="126.71"/>
<line class="tk" x1="573.60" y1="126.71" x2="571.60" y2="126.71"/>
<line class="tk" x1="552.73" y1="1.35" x2="552.73" y2="3.35"/>
<line class="tk" x1="552.73" y1="182.50" x2="552.73" y2="180.50"/>
<line class="tk" x1="392.70" y1="161.50" x2="394.70" y2="161.50"/>
<line class="tk" x1="573.60" y1="161.50" x2="571.60" y2="161.50"/>
<rect x="392.70" y="1.35" width="180.90" height="181.15" fill="none" stroke="#585858" stroke-width="1.2"/>
<rect x="578.00" y="1.35" width="180.60" height="181.15" fill="#fff5f0"/>
<clipPath id="cp3"><rect x="578.00" y="1.35" width="180.60" height="181.15"/></clipPath>
<g clip-path="url(#cp3)">
<path d="M593.80,73.92 593.80,82.92 586.34,87.42 578.88,82.92 578.88,73.92 586.34,69.42Z" fill="#ffede5" stroke="#ffede5" stroke-width="0.5"/>
<path d="M601.26,60.42 601.26,69.42 593.80,73.92 586.34,69.42 586.34,60.42 593.80,55.92Z" fill="#ffede5" stroke="#ffede5" stroke-width="0.5"/>
<path d="M601.26,87.42 601.26,96.42 593.80,100.92 586.34,96.42 586.34,87.42 593.80,82.92Z" fill="#ffede5" stroke="#ffede5" stroke-width="0.5"/>
<path d="M608.72,46.92 608.72,55.92 601.26,60.42 593.80,55.92 593.80,46.92 601.26,42.42Z" fill="#ffede5" stroke="#ffede5" stroke-width="0.5"/>
<path d="M608.72,73.92 608.72,82.92 601.26,87.42 593.80,82.92 593.80,73.92 601.26,69.42Z" fill="#fee1d4" stroke="#fee1d4" stroke-width="0.5"/>
<path d="M608.72,100.92 608.72,109.92 601.26,114.42 593.80,109.92 593.80,100.92 601.26,96.42Z" fill="#fee5d8" stroke="#fee5d8" stroke-width="0.5"/>
<path d="M616.18,60.42 616.18,69.42 608.72,73.92 601.26,69.42 601.26,60.42 608.72,55.92Z" fill="#fee1d4" stroke="#fee1d4" stroke-width="0.5"/>
<path d="M616.18,87.42 616.18,96.42 608.72,100.92 601.26,96.42 601.26,87.42 608.72,82.92Z" fill="#fee8dd" stroke="#fee8dd" stroke-width="0.5"/>
<path d="M616.18,114.42 616.18,123.42 608.72,127.92 601.26,123.42 601.26,114.42 608.72,109.92Z" fill="#fee8dd" stroke="#fee8dd" stroke-width="0.5"/>
<path d="M623.64,46.92 623.64,55.92 616.18,60.42 608.72,55.92 608.72,46.92 616.18,42.42Z" fill="#fdd3c1" stroke="#fdd3c1" stroke-width="0.5"/>
<path d="M623.64,73.92 623.64,82.92 616.18,87.42 608.72,82.92 608.72,73.92 616.18,69.42Z" fill="#fee1d4" stroke="#fee1d4" stroke-width="0.5"/>
<path d="M623.64,100.92 623.64,109.92 616.18,114.42 608.72,109.92 608.72,100.92 616.18,96.42Z" fill="#fee1d4" stroke="#fee1d4" stroke-width="0.5"/>
<path d="M623.64,127.93 623.64,136.93 616.18,141.43 608.72,136.93 608.72,127.93 616.18,123.43Z" fill="#fee5d8" stroke="#fee5d8" stroke-width="0.5"/>
<path d="M631.10,33.42 631.10,42.42 623.64,46.92 616.18,42.42 616.18,33.42 623.64,28.92Z" fill="#fff0e9" stroke="#fff0e9" stroke-width="0.5"/>
<path d="M631.10,60.42 631.10,69.42 623.64,73.92 616.18,69.42 616.18,60.42 623.64,55.92Z" fill="#fed9c9" stroke="#fed9c9" stroke-width="0.5"/>
<path d="M631.10,87.42 631.10,96.42 623.64,100.92 616.18,96.42 616.18,87.42 623.64,82.92Z" fill="#fee1d4" stroke="#fee1d4" stroke-width="0.5"/>
<path d="M631.10,114.42 631.10,123.42 623.64,127.92 616.18,123.42 616.18,114.42 623.64,109.92Z" fill="#ffebe2" stroke="#ffebe2" stroke-width="0.5"/>
<path d="M638.56,46.92 638.56,55.92 631.10,60.42 623.64,55.92 623.64,46.92 631.10,42.42Z" fill="#fdd3c1" stroke="#fdd3c1" stroke-width="0.5"/>
<path d="M638.56,73.92 638.56,82.92 631.10,87.42 623.64,82.92 623.64,73.92 631.10,69.42Z" fill="#fdcab5" stroke="#fdcab5" stroke-width="0.5"/>
<path d="M638.56,100.92 638.56,109.92 631.10,114.42 623.64,109.92 623.64,100.92 631.10,96.42Z" fill="#fee1d4" stroke="#fee1d4" stroke-width="0.5"/>
<path d="M638.56,127.93 638.56,136.93 631.10,141.43 623.64,136.93 623.64,127.93 631.10,123.43Z" fill="#ffede5" stroke="#ffede5" stroke-width="0.5"/>
<path d="M646.02,33.42 646.02,42.42 638.56,46.92 631.10,42.42 631.10,33.42 638.56,28.92Z" fill="#fdd3c1" stroke="#fdd3c1" stroke-width="0.5"/>
<path d="M646.02,60.42 646.02,69.42 638.56,73.92 631.10,69.42 631.10,60.42 638.56,55.92Z" fill="#fcbba1" stroke="#fcbba1" stroke-width="0.5"/>
<path d="M646.02,87.42 646.02,96.42 638.56,100.92 631.10,96.42 631.10,87.42 638.56,82.92Z" fill="#fcbba1" stroke="#fcbba1" stroke-width="0.5"/>
<path d="M646.02,114.42 646.02,123.42 638.56,127.92 631.10,123.42 631.10,114.42 638.56,109.92Z" fill="#fed9c9" stroke="#fed9c9" stroke-width="0.5"/>
<path d="M646.02,141.43 646.02,150.43 638.56,154.93 631.10,150.43 631.10,141.43 638.56,136.93Z" fill="#feeae0" stroke="#feeae0" stroke-width="0.5"/>
<path d="M653.48,19.92 653.48,28.92 646.02,33.42 638.56,28.92 638.56,19.92 646.02,15.42Z" fill="#ffebe2" stroke="#ffebe2" stroke-width="0.5"/>
<path d="M653.48,46.92 653.48,55.92 646.02,60.42 638.56,55.92 638.56,46.92 646.02,42.42Z" fill="#fdcab5" stroke="#fdcab5" stroke-width="0.5"/>
<path d="M653.48,73.92 653.48,82.92 646.02,87.42 638.56,82.92 638.56,73.92 646.02,69.42Z" fill="#fc9b7c" stroke="#fc9b7c" stroke-width="0.5"/>
<path d="M653.48,100.92 653.48,109.92 646.02,114.42 638.56,109.92 638.56,100.92 646.02,96.42Z" fill="#fc8a6a" stroke="#fc8a6a" stroke-width="0.5"/>
<path d="M653.48,127.93 653.48,136.93 646.02,141.43 638.56,136.93 638.56,127.93 646.02,123.43Z" fill="#fee1d4" stroke="#fee1d4" stroke-width="0.5"/>
<path d="M660.94,6.42 660.94,15.42 653.48,19.92 646.02,15.42 646.02,6.42 653.48,1.92Z" fill="#ffeee7" stroke="#ffeee7" stroke-width="0.5"/>
<path d="M660.94,33.42 660.94,42.42 653.48,46.92 646.02,42.42 646.02,33.42 653.48,28.92Z" fill="#fed9c9" stroke="#fed9c9" stroke-width="0.5"/>
<path d="M660.94,60.42 660.94,69.42 653.48,73.92 646.02,69.42 646.02,60.42 653.48,55.92Z" fill="#fb7a5a" stroke="#fb7a5a" stroke-width="0.5"/>
<path d="M660.94,87.42 660.94,96.42 653.48,100.92 646.02,96.42 646.02,87.42 653.48,82.92Z" fill="#bc141a" stroke="#bc141a" stroke-width="0.5"/>
<path d="M660.94,114.42 660.94,123.42 653.48,127.92 646.02,123.42 646.02,114.42 653.48,109.92Z" fill="#fcb499" stroke="#fcb499" stroke-width="0.5"/>
<path d="M660.94,141.43 660.94,150.43 653.48,154.93 646.02,150.43 646.02,141.43 653.48,136.93Z" fill="#ffede5" stroke="#ffede5" stroke-width="0.5"/>
<path d="M668.40,19.92 668.40,28.92 660.94,33.42 653.48,28.92 653.48,19.92 660.94,15.42Z" fill="#fdd7c6" stroke="#fdd7c6" stroke-width="0.5"/>
<path d="M668.40,46.92 668.40,55.92 660.94,60.42 653.48,55.92 653.48,46.92 660.94,42.42Z" fill="#fdd0bc" stroke="#fdd0bc" stroke-width="0.5"/>
<path d="M668.40,73.92 668.40,82.92 660.94,87.42 653.48,82.92 653.48,73.92 660.94,69.42Z" fill="#67000d" stroke="#67000d" stroke-width="0.5"/>
<path d="M668.40,100.92 668.40,109.92 660.94,114.42 653.48,109.92 653.48,100.92 660.94,96.42Z" fill="#e53228" stroke="#e53228" stroke-width="0.5"/>
<path d="M668.40,127.93 668.40,136.93 660.94,141.43 653.48,136.93 653.48,127.93 660.94,123.43Z" fill="#fed9c9" stroke="#fed9c9" stroke-width="0.5"/>
<path d="M668.40,154.93 668.40,163.93 660.94,168.43 653.48,163.93 653.48,154.93 660.94,150.43Z" fill="#feeae0" stroke="#feeae0" stroke-width="0.5"/>
<path d="M675.86,6.42 675.86,15.42 668.40,19.92 660.94,15.42 660.94,6.42 668.40,1.92Z" fill="#ffeee7" stroke="#ffeee7" stroke-width="0.5"/>
<path d="M675.86,33.42 675.86,42.42 668.40,46.92 660.94,42.42 660.94,33.42 668.40,28.92Z" fill="#fed9c9" stroke="#fed9c9" stroke-width="0.5"/>
<path d="M675.86,60.42 675.86,69.42 668.40,73.92 660.94,69.42 660.94,60.42 668.40,55.92Z" fill="#fcab8f" stroke="#fcab8f" stroke-width="0.5"/>
<path d="M675.86,87.42 675.86,96.42 668.40,100.92 660.94,96.42 660.94,87.42 668.40,82.92Z" fill="#7e0610" stroke="#7e0610" stroke-width="0.5"/>
<path d="M675.86,114.42 675.86,123.42 668.40,127.92 660.94,123.42 660.94,114.42 668.40,109.92Z" fill="#fc8a6a" stroke="#fc8a6a" stroke-width="0.5"/>
<path d="M675.86,141.43 675.86,150.43 668.40,154.93 660.94,150.43 660.94,141.43 668.40,136.93Z" fill="#ffebe2" stroke="#ffebe2" stroke-width="0.5"/>
<path d="M683.32,19.92 683.32,28.92 675.86,33.42 668.40,28.92 668.40,19.92 675.86,15.42Z" fill="#fedccd" stroke="#fedccd" stroke-width="0.5"/>
<path d="M683.32,46.92 683.32,55.92 675.86,60.42 668.40,55.92 668.40,46.92 675.86,42.42Z" fill="#fdd0bc" stroke="#fdd0bc" stroke-width="0.5"/>
<path d="M683.32,73.92 683.32,82.92 675.86,87.42 668.40,82.92 668.40,73.92 675.86,69.42Z" fill="#ac1117" stroke="#ac1117" stroke-width="0.5"/>
<path d="M683.32,100.92 683.32,109.92 675.86,114.42 668.40,109.92 668.40,100.92 675.86,96.42Z" fill="#ca181d" stroke="#ca181d" stroke-width="0.5"/>
<path d="M683.32,127.93 683.32,136.93 675.86,141.43 668.40,136.93 668.40,127.93 675.86,123.43Z" fill="#fcbba1" stroke="#fcbba1" stroke-width="0.5"/>
<path d="M683.32,154.93 683.32,163.93 675.86,168.43 668.40,163.93 668.40,154.93 675.86,150.43Z" fill="#fee8dd" stroke="#fee8dd" stroke-width="0.5"/>
<path d="M690.78,33.42 690.78,42.42 683.32,46.92 675.86,42.42 675.86,33.42 683.32,28.92Z" fill="#fee8dd" stroke="#fee8dd" stroke-width="0.5"/>
<path d="M690.78,60.42 690.78,69.42 683.32,73.92 675.86,69.42 675.86,60.42 683.32,55.92Z" fill="#fdcab5" stroke="#fdcab5" stroke-width="0.5"/>
<path d="M690.78,87.42 690.78,96.42 683.32,100.92 675.86,96.42 675.86,87.42 683.32,82.92Z" fill="#d92523" stroke="#d92523" stroke-width="0.5"/>
<path d="M690.78,114.42 690.78,123.42 683.32,127.92 675.86,123.42 675.86,114.42 683.32,109.92Z" fill="#d32020" stroke="#d32020" stroke-width="0.5"/>
<path d="M690.78,141.43 690.78,150.43 683.32,154.93 675.86,150.43 675.86,141.43 683.32,136.93Z" fill="#ffede5" stroke="#ffede5" stroke-width="0.5"/>
<path d="M698.24,19.92 698.24,28.92 690.78,33.42 683.32,28.92 683.32,19.92 690.78,15.42Z" fill="#ffeee7" stroke="#ffeee7" stroke-width="0.5"/>
<path d="M698.24,46.92 698.24,55.92 690.78,60.42 683.32,55.92 683.32,46.92 690.78,42.42Z" fill="#fee5d8" stroke="#fee5d8" stroke-width="0.5"/>
<path d="M698.24,73.92 698.24,82.92 690.78,87.42 683.32,82.92 683.32,73.92 690.78,69.42Z" fill="#fc9b7c" stroke="#fc9b7c" stroke-width="0.5"/>
<path d="M698.24,100.92 698.24,109.92 690.78,114.42 683.32,109.92 683.32,100.92 690.78,96.42Z" fill="#fb7151" stroke="#fb7151" stroke-width="0.5"/>
<path d="M698.24,127.93 698.24,136.93 690.78,141.43 683.32,136.93 683.32,127.93 690.78,123.43Z" fill="#fee1d4" stroke="#fee1d4" stroke-width="0.5"/>
<path d="M705.70,33.42 705.70,42.42 698.24,46.92 690.78,42.42 690.78,33.42 698.24,28.92Z" fill="#fee5d8" stroke="#fee5d8" stroke-width="0.5"/>
<path d="M705.70,60.42 705.70,69.42 698.24,73.92 690.78,69.42 690.78,60.42 698.24,55.92Z" fill="#fee3d6" stroke="#fee3d6" stroke-width="0.5"/>
<path d="M705.70,87.42 705.70,96.42 698.24,100.92 690.78,96.42 690.78,87.42 698.24,82.92Z" fill="#fcab8f" stroke="#fcab8f" stroke-width="0.5"/>
<path d="M705.70,114.42 705.70,123.42 698.24,127.92 690.78,123.42 690.78,114.42 698.24,109.92Z" fill="#fee8dd" stroke="#fee8dd" stroke-width="0.5"/>
<path d="M705.70,141.43 705.70,150.43 698.24,154.93 690.78,150.43 690.78,141.43 698.24,136.93Z" fill="#fee5d8" stroke="#fee5d8" stroke-width="0.5"/>
<path d="M713.16,46.92 713.16,55.92 705.70,60.42 698.24,55.92 698.24,46.92 705.70,42.42Z" fill="#ffede5" stroke="#ffede5" stroke-width="0.5"/>
<path d="M713.16,73.92 713.16,82.92 705.70,87.42 698.24,82.92 698.24,73.92 705.70,69.42Z" fill="#fee1d4" stroke="#fee1d4" stroke-width="0.5"/>
<path d="M713.16,100.92 713.16,109.92 705.70,114.42 698.24,109.92 698.24,100.92 705.70,96.42Z" fill="#fee5d8" stroke="#fee5d8" stroke-width="0.5"/>
<path d="M713.16,127.93 713.16,136.93 705.70,141.43 698.24,136.93 698.24,127.93 705.70,123.43Z" fill="#fee5d8" stroke="#fee5d8" stroke-width="0.5"/>
<path d="M720.62,60.42 720.62,69.42 713.16,73.92 705.70,69.42 705.70,60.42 713.16,55.92Z" fill="#ffebe2" stroke="#ffebe2" stroke-width="0.5"/>
<path d="M720.62,87.42 720.62,96.42 713.16,100.92 705.70,96.42 705.70,87.42 713.16,82.92Z" fill="#ffede5" stroke="#ffede5" stroke-width="0.5"/>
<path d="M720.62,114.42 720.62,123.42 713.16,127.92 705.70,123.42 705.70,114.42 713.16,109.92Z" fill="#ffebe2" stroke="#ffebe2" stroke-width="0.5"/>
<path d="M728.08,73.92 728.08,82.92 720.62,87.42 713.16,82.92 713.16,73.92 720.62,69.42Z" fill="#ffede5" stroke="#ffede5" stroke-width="0.5"/>
<path d="M728.08,100.92 728.08,109.92 720.62,114.42 713.16,109.92 713.16,100.92 720.62,96.42Z" fill="#ffebe2" stroke="#ffebe2" stroke-width="0.5"/>
<path d="M728.08,127.93 728.08,136.93 720.62,141.43 713.16,136.93 713.16,127.93 720.62,123.43Z" fill="#fee5d8" stroke="#fee5d8" stroke-width="0.5"/>
<path d="M735.54,87.42 735.54,96.42 728.08,100.92 720.62,96.42 720.62,87.42 728.08,82.92Z" fill="#ffebe2" stroke="#ffebe2" stroke-width="0.5"/>
<path d="M735.54,114.42 735.54,123.42 728.08,127.92 720.62,123.42 720.62,114.42 728.08,109.92Z" fill="#feeae0" stroke="#feeae0" stroke-width="0.5"/>
<path d="M743.00,73.92 743.00,82.92 735.54,87.42 728.08,82.92 728.08,73.92 735.54,69.42Z" fill="#fee8dd" stroke="#fee8dd" stroke-width="0.5"/>
<path d="M743.00,100.92 743.00,109.92 735.54,114.42 728.08,109.92 728.08,100.92 735.54,96.42Z" fill="#fee5d8" stroke="#fee5d8" stroke-width="0.5"/>
</g>
<rect x="579.40" y="2.75" width="177.80" height="178.35" fill="none" stroke="#fff" stroke-opacity="0.55" stroke-width="1"/>
<circle cx="668.30" cy="91.92" r="57.3" fill="none" stroke="#000" stroke-width="1.2"/>
<path class="dl" d="M678.15,35.48L668.30,91.92M658.45,148.37L668.30,91.92"/>
<path class="dl" d="M614.39,72.52L668.30,91.92M722.21,111.33L668.30,91.92"/>
<rect x="582.60" y="101.55" width="7.30" height="76.60" fill="url(#g0)" stroke="#999" stroke-width="0.6"/>
<line x1="588.60" y1="178.15" x2="589.90" y2="178.15" stroke="#777" stroke-width="0.5"/>
<text class="cb" x="590.70" y="180.20">0.00</text>
<line x1="588.60" y1="169.91" x2="589.90" y2="169.91" stroke="#777" stroke-width="0.5"/>
<text class="cb" x="590.70" y="171.96">0.05</text>
<line x1="588.60" y1="161.68" x2="589.90" y2="161.68" stroke="#777" stroke-width="0.5"/>
<text class="cb" x="590.70" y="163.73">0.10</text>
<line x1="588.60" y1="153.44" x2="589.90" y2="153.44" stroke="#777" stroke-width="0.5"/>
<text class="cb" x="590.70" y="155.49">0.15</text>
<line x1="588.60" y1="145.20" x2="589.90" y2="145.20" stroke="#777" stroke-width="0.5"/>
<text class="cb" x="590.70" y="147.25">0.20</text>
<line x1="588.60" y1="136.97" x2="589.90" y2="136.97" stroke="#777" stroke-width="0.5"/>
<text class="cb" x="590.70" y="139.02">0.25</text>
<line x1="588.60" y1="128.73" x2="589.90" y2="128.73" stroke="#777" stroke-width="0.5"/>
<text class="cb" x="590.70" y="130.78">0.30</text>
<line x1="588.60" y1="120.49" x2="589.90" y2="120.49" stroke="#777" stroke-width="0.5"/>
<text class="cb" x="590.70" y="122.54">0.35</text>
<line x1="588.60" y1="112.26" x2="589.90" y2="112.26" stroke="#777" stroke-width="0.5"/>
<text class="cb" x="590.70" y="114.31">0.40</text>
<line x1="588.60" y1="104.02" x2="589.90" y2="104.02" stroke="#777" stroke-width="0.5"/>
<text class="cb" x="590.70" y="106.07">0.45</text>
<line x1="727.35" y1="161.40" x2="738.55" y2="161.40" stroke="#000" stroke-width="1.3"/>
<text class="lab" x="738.80" y="169.55" text-anchor="end">100 pc</text>
<text class="title" x="583.60" y="13.65">HCO<tspan class="sup" dy="-2.6">+</tspan><tspan dy="2.6" dx="1.5">(1-0)/CO(1-0) (4th highest PC1)</tspan></text>
<line class="tk" x1="598.72" y1="1.35" x2="598.72" y2="3.35"/>
<line class="tk" x1="598.72" y1="182.50" x2="598.72" y2="180.50"/>
<line class="tk" x1="578.00" y1="22.35" x2="580.00" y2="22.35"/>
<line class="tk" x1="758.60" y1="22.35" x2="756.60" y2="22.35"/>
<line class="tk" x1="633.51" y1="1.35" x2="633.51" y2="3.35"/>
<line class="tk" x1="633.51" y1="182.50" x2="633.51" y2="180.50"/>
<line class="tk" x1="578.00" y1="57.14" x2="580.00" y2="57.14"/>
<line class="tk" x1="758.60" y1="57.14" x2="756.60" y2="57.14"/>
<line class="tk" x1="668.30" y1="1.35" x2="668.30" y2="3.35"/>
<line class="tk" x1="668.30" y1="182.50" x2="668.30" y2="180.50"/>
<line class="tk" x1="578.00" y1="91.92" x2="580.00" y2="91.92"/>
<line class="tk" x1="758.60" y1="91.92" x2="756.60" y2="91.92"/>
<line class="tk" x1="703.09" y1="1.35" x2="703.09" y2="3.35"/>
<line class="tk" x1="703.09" y1="182.50" x2="703.09" y2="180.50"/>
<line class="tk" x1="578.00" y1="126.71" x2="580.00" y2="126.71"/>
<line class="tk" x1="758.60" y1="126.71" x2="756.60" y2="126.71"/>
<line class="tk" x1="737.88" y1="1.35" x2="737.88" y2="3.35"/>
<line class="tk" x1="737.88" y1="182.50" x2="737.88" y2="180.50"/>
<line class="tk" x1="578.00" y1="161.50" x2="580.00" y2="161.50"/>
<line class="tk" x1="758.60" y1="161.50" x2="756.60" y2="161.50"/>
<rect x="578.00" y="1.35" width="180.60" height="181.15" fill="none" stroke="#585858" stroke-width="1.2"/>
<rect x="22.50" y="187.65" width="181.00" height="181.10" fill="#fff7fb"/>
<clipPath id="cp4"><rect x="22.50" y="187.65" width="181.00" height="181.10"/></clipPath>
<g clip-path="url(#cp4)">
<path d="M53.42,260.20 53.42,269.20 45.96,273.70 38.50,269.20 38.50,260.20 45.96,255.70Z" fill="#f5eef6" stroke="#f5eef6" stroke-width="0.5"/>
<path d="M60.88,273.70 60.88,282.70 53.42,287.20 45.96,282.70 45.96,273.70 53.42,269.20Z" fill="#f8f1f8" stroke="#f8f1f8" stroke-width="0.5"/>
<path d="M68.34,233.20 68.34,242.20 60.88,246.70 53.42,242.20 53.42,233.20 60.88,228.70Z" fill="#f6eff7" stroke="#f6eff7" stroke-width="0.5"/>
<path d="M68.34,260.20 68.34,269.20 60.88,273.70 53.42,269.20 53.42,260.20 60.88,255.70Z" fill="#f3edf5" stroke="#f3edf5" stroke-width="0.5"/>
<path d="M75.80,219.70 75.80,228.70 68.34,233.20 60.88,228.70 60.88,219.70 68.34,215.20Z" fill="#f8f1f8" stroke="#f8f1f8" stroke-width="0.5"/>
<path d="M75.80,246.70 75.80,255.70 68.34,260.20 60.88,255.70 60.88,246.70 68.34,242.20Z" fill="#f3edf5" stroke="#f3edf5" stroke-width="0.5"/>
<path d="M75.80,273.70 75.80,282.70 68.34,287.20 60.88,282.70 60.88,273.70 68.34,269.20Z" fill="#f0eaf4" stroke="#f0eaf4" stroke-width="0.5"/>
<path d="M75.80,300.70 75.80,309.70 68.34,314.20 60.88,309.70 60.88,300.70 68.34,296.20Z" fill="#f6eff7" stroke="#f6eff7" stroke-width="0.5"/>
<path d="M83.26,233.20 83.26,242.20 75.80,246.70 68.34,242.20 68.34,233.20 75.80,228.70Z" fill="#f0eaf4" stroke="#f0eaf4" stroke-width="0.5"/>
<path d="M83.26,260.20 83.26,269.20 75.80,273.70 68.34,269.20 68.34,260.20 75.80,255.70Z" fill="#ede8f3" stroke="#ede8f3" stroke-width="0.5"/>
<path d="M83.26,287.20 83.26,296.20 75.80,300.70 68.34,296.20 68.34,287.20 75.80,282.70Z" fill="#f0eaf4" stroke="#f0eaf4" stroke-width="0.5"/>
<path d="M90.72,219.70 90.72,228.70 83.26,233.20 75.80,228.70 75.80,219.70 83.26,215.20Z" fill="#e9e5f1" stroke="#e9e5f1" stroke-width="0.5"/>
<path d="M90.72,246.70 90.72,255.70 83.26,260.20 75.80,255.70 75.80,246.70 83.26,242.20Z" fill="#c6cce3" stroke="#c6cce3" stroke-width="0.5"/>
<path d="M90.72,273.70 90.72,282.70 83.26,287.20 75.80,282.70 75.80,273.70 83.26,269.20Z" fill="#c6cce3" stroke="#c6cce3" stroke-width="0.5"/>
<path d="M90.72,300.70 90.72,309.70 83.26,314.20 75.80,309.70 75.80,300.70 83.26,296.20Z" fill="#f0eaf4" stroke="#f0eaf4" stroke-width="0.5"/>
<path d="M98.18,233.20 98.18,242.20 90.72,246.70 83.26,242.20 83.26,233.20 90.72,228.70Z" fill="#b9c6e0" stroke="#b9c6e0" stroke-width="0.5"/>
<path d="M98.18,260.20 98.18,269.20 90.72,273.70 83.26,269.20 83.26,260.20 90.72,255.70Z" fill="#b5c4df" stroke="#b5c4df" stroke-width="0.5"/>
<path d="M98.18,287.20 98.18,296.20 90.72,300.70 83.26,296.20 83.26,287.20 90.72,282.70Z" fill="#b5c4df" stroke="#b5c4df" stroke-width="0.5"/>
<path d="M98.18,314.20 98.18,323.20 90.72,327.70 83.26,323.20 83.26,314.20 90.72,309.70Z" fill="#f6eff7" stroke="#f6eff7" stroke-width="0.5"/>
<path d="M105.64,219.70 105.64,228.70 98.18,233.20 90.72,228.70 90.72,219.70 98.18,215.20Z" fill="#ede8f3" stroke="#ede8f3" stroke-width="0.5"/>
<path d="M105.64,246.70 105.64,255.70 98.18,260.20 90.72,255.70 90.72,246.70 98.18,242.20Z" fill="#569dc8" stroke="#569dc8" stroke-width="0.5"/>
<path d="M105.64,273.70 105.64,282.70 98.18,287.20 90.72,282.70 90.72,273.70 98.18,269.20Z" fill="#5c9fc9" stroke="#5c9fc9" stroke-width="0.5"/>
<path d="M105.64,300.70 105.64,309.70 98.18,314.20 90.72,309.70 90.72,300.70 98.18,296.20Z" fill="#dbdaeb" stroke="#dbdaeb" stroke-width="0.5"/>
<path d="M113.10,206.20 113.10,215.20 105.64,219.70 98.18,215.20 98.18,206.20 105.64,201.70Z" fill="#f6eff7" stroke="#f6eff7" stroke-width="0.5"/>
<path d="M113.10,233.20 113.10,242.20 105.64,246.70 98.18,242.20 98.18,233.20 105.64,228.70Z" fill="#d0d1e6" stroke="#d0d1e6" stroke-width="0.5"/>
<path d="M113.10,260.20 113.10,269.20 105.64,273.70 98.18,269.20 98.18,260.20 105.64,255.70Z" fill="#023858" stroke="#023858" stroke-width="0.5"/>
<path d="M113.10,287.20 113.10,296.20 105.64,300.70 98.18,296.20 98.18,287.20 105.64,282.70Z" fill="#88b1d4" stroke="#88b1d4" stroke-width="0.5"/>
<path d="M113.10,314.20 113.10,323.20 105.64,327.70 98.18,323.20 98.18,314.20 105.64,309.70Z" fill="#ede8f3" stroke="#ede8f3" stroke-width="0.5"/>
<path d="M113.10,341.20 113.10,350.20 105.64,354.70 98.18,350.20 98.18,341.20 105.64,336.70Z" fill="#f6eff7" stroke="#f6eff7" stroke-width="0.5"/>
<path d="M120.56,219.70 120.56,228.70 113.10,233.20 105.64,228.70 105.64,219.70 113.10,215.20Z" fill="#f5eef6" stroke="#f5eef6" stroke-width="0.5"/>
<path d="M120.56,246.70 120.56,255.70 113.10,260.20 105.64,255.70 105.64,246.70 113.10,242.20Z" fill="#c0c9e2" stroke="#c0c9e2" stroke-width="0.5"/>
<path d="M120.56,273.70 120.56,282.70 113.10,287.20 105.64,282.70 105.64,273.70 113.10,269.20Z" fill="#308cbe" stroke="#308cbe" stroke-width="0.5"/>
<path d="M120.56,300.70 120.56,309.70 113.10,314.20 105.64,309.70 105.64,300.70 113.10,296.20Z" fill="#4295c3" stroke="#4295c3" stroke-width="0.5"/>
<path d="M120.56,327.70 120.56,336.70 113.10,341.20 105.64,336.70 105.64,327.70 113.10,323.20Z" fill="#f9f2f8" stroke="#f9f2f8" stroke-width="0.5"/>
<path d="M128.02,206.20 128.02,215.20 120.56,219.70 113.10,215.20 113.10,206.20 120.56,201.70Z" fill="#f3edf5" stroke="#f3edf5" stroke-width="0.5"/>
<path d="M128.02,233.20 128.02,242.20 120.56,246.70 113.10,242.20 113.10,233.20 120.56,228.70Z" fill="#f0eaf4" stroke="#f0eaf4" stroke-width="0.5"/>
<path d="M128.02,260.20 128.02,269.20 120.56,273.70 113.10,269.20 113.10,260.20 120.56,255.70Z" fill="#2c89bd" stroke="#2c89bd" stroke-width="0.5"/>
<path d="M128.02,287.20 128.02,296.20 120.56,300.70 113.10,296.20 113.10,287.20 120.56,282.70Z" fill="#4c99c5" stroke="#4c99c5" stroke-width="0.5"/>
<path d="M128.02,314.20 128.02,323.20 120.56,327.70 113.10,323.20 113.10,314.20 120.56,309.70Z" fill="#d0d1e6" stroke="#d0d1e6" stroke-width="0.5"/>
<path d="M128.02,341.20 128.02,350.20 120.56,354.70 113.10,350.20 113.10,341.20 120.56,336.70Z" fill="#f6eff7" stroke="#f6eff7" stroke-width="0.5"/>
<path d="M135.48,246.70 135.48,255.70 128.02,260.20 120.56,255.70 120.56,246.70 128.02,242.20Z" fill="#e7e3f0" stroke="#e7e3f0" stroke-width="0.5"/>
<path d="M135.48,273.70 135.48,282.70 128.02,287.20 120.56,282.70 120.56,273.70 128.02,269.20Z" fill="#9cb9d9" stroke="#9cb9d9" stroke-width="0.5"/>
<path d="M135.48,300.70 135.48,309.70 128.02,314.20 120.56,309.70 120.56,300.70 128.02,296.20Z" fill="#023858" stroke="#023858" stroke-width="0.5"/>
<path d="M135.48,327.70 135.48,336.70 128.02,341.20 120.56,336.70 120.56,327.70 128.02,323.20Z" fill="#f9f2f8" stroke="#f9f2f8" stroke-width="0.5"/>
<path d="M142.94,233.20 142.94,242.20 135.48,246.70 128.02,242.20 128.02,233.20 135.48,228.70Z" fill="#f3edf5" stroke="#f3edf5" stroke-width="0.5"/>
<path d="M142.94,260.20 142.94,269.20 135.48,273.70 128.02,269.20 128.02,260.20 135.48,255.70Z" fill="#c6cce3" stroke="#c6cce3" stroke-width="0.5"/>
<path d="M142.94,287.20 142.94,296.20 135.48,300.70 128.02,296.20 128.02,287.20 135.48,282.70Z" fill="#73a9cf" stroke="#73a9cf" stroke-width="0.5"/>
<path d="M142.94,314.20 142.94,323.20 135.48,327.70 128.02,323.20 128.02,314.20 135.48,309.70Z" fill="#73a9cf" stroke="#73a9cf" stroke-width="0.5"/>
<path d="M150.40,246.70 150.40,255.70 142.94,260.20 135.48,255.70 135.48,246.70 142.94,242.20Z" fill="#f3edf5" stroke="#f3edf5" stroke-width="0.5"/>
<path d="M150.40,273.70 150.40,282.70 142.94,287.20 135.48,282.70 135.48,273.70 142.94,269.20Z" fill="#d0d1e6" stroke="#d0d1e6" stroke-width="0.5"/>
<path d="M150.40,300.70 150.40,309.70 142.94,314.20 135.48,309.70 135.48,300.70 142.94,296.20Z" fill="#023d60" stroke="#023d60" stroke-width="0.5"/>
<path d="M150.40,327.70 150.40,336.70 142.94,341.20 135.48,336.70 135.48,327.70 142.94,323.20Z" fill="#f0eaf4" stroke="#f0eaf4" stroke-width="0.5"/>
<path d="M157.86,260.20 157.86,269.20 150.40,273.70 142.94,269.20 142.94,260.20 150.40,255.70Z" fill="#f0eaf4" stroke="#f0eaf4" stroke-width="0.5"/>
<path d="M157.86,287.20 157.86,296.20 150.40,300.70 142.94,296.20 142.94,287.20 150.40,282.70Z" fill="#ede8f3" stroke="#ede8f3" stroke-width="0.5"/>
<path d="M157.86,314.20 157.86,323.20 150.40,327.70 142.94,323.20 142.94,314.20 150.40,309.70Z" fill="#f0eaf4" stroke="#f0eaf4" stroke-width="0.5"/>
<path d="M165.32,273.70 165.32,282.70 157.86,287.20 150.40,282.70 150.40,273.70 157.86,269.20Z" fill="#f6eff7" stroke="#f6eff7" stroke-width="0.5"/>
<path d="M165.32,300.70 165.32,309.70 157.86,314.20 150.40,309.70 150.40,300.70 157.86,296.20Z" fill="#f3edf5" stroke="#f3edf5" stroke-width="0.5"/>
<path d="M172.78,260.20 172.78,269.20 165.32,273.70 157.86,269.20 157.86,260.20 165.32,255.70Z" fill="#f6eff7" stroke="#f6eff7" stroke-width="0.5"/>
<path d="M172.78,314.20 172.78,323.20 165.32,327.70 157.86,323.20 157.86,314.20 165.32,309.70Z" fill="#f6eff7" stroke="#f6eff7" stroke-width="0.5"/>
<path d="M187.70,260.20 187.70,269.20 180.24,273.70 172.78,269.20 172.78,260.20 180.24,255.70Z" fill="#f8f1f8" stroke="#f8f1f8" stroke-width="0.5"/>
</g>
<rect x="23.90" y="189.05" width="178.20" height="178.30" fill="none" stroke="#fff" stroke-opacity="0.55" stroke-width="1"/>
<circle cx="113.00" cy="278.20" r="57.3" fill="none" stroke="#000" stroke-width="1.2"/>
<path class="dl" d="M122.85,221.75L113.00,278.20M103.15,334.65L113.00,278.20"/>
<path class="dl" d="M59.09,258.79L113.00,278.20M166.91,297.61L113.00,278.20"/>
<rect x="27.10" y="287.85" width="7.30" height="76.60" fill="url(#g1)" stroke="#999" stroke-width="0.6"/>
<line x1="33.10" y1="364.45" x2="34.40" y2="364.45" stroke="#777" stroke-width="0.5"/>
<text class="cb" x="35.20" y="366.50">0.00</text>
<line x1="33.10" y1="356.27" x2="34.40" y2="356.27" stroke="#777" stroke-width="0.5"/>
<text class="cb" x="35.20" y="358.32">0.08</text>
<line x1="33.10" y1="348.09" x2="34.40" y2="348.09" stroke="#777" stroke-width="0.5"/>
<text class="cb" x="35.20" y="350.14">0.16</text>
<line x1="33.10" y1="339.91" x2="34.40" y2="339.91" stroke="#777" stroke-width="0.5"/>
<text class="cb" x="35.20" y="341.96">0.24</text>
<line x1="33.10" y1="331.72" x2="34.40" y2="331.72" stroke="#777" stroke-width="0.5"/>
<text class="cb" x="35.20" y="333.77">0.32</text>
<line x1="33.10" y1="323.54" x2="34.40" y2="323.54" stroke="#777" stroke-width="0.5"/>
<text class="cb" x="35.20" y="325.59">0.40</text>
<line x1="33.10" y1="315.36" x2="34.40" y2="315.36" stroke="#777" stroke-width="0.5"/>
<text class="cb" x="35.20" y="317.41">0.48</text>
<line x1="33.10" y1="307.18" x2="34.40" y2="307.18" stroke="#777" stroke-width="0.5"/>
<text class="cb" x="35.20" y="309.23">0.56</text>
<line x1="33.10" y1="299.00" x2="34.40" y2="299.00" stroke="#777" stroke-width="0.5"/>
<text class="cb" x="35.20" y="301.05">0.64</text>
<line x1="33.10" y1="290.82" x2="34.40" y2="290.82" stroke="#777" stroke-width="0.5"/>
<text class="cb" x="35.20" y="292.87">0.72</text>
<line x1="171.85" y1="347.70" x2="183.05" y2="347.70" stroke="#000" stroke-width="1.3"/>
<text class="lab" x="183.30" y="355.85" text-anchor="end">100 pc</text>
<text class="title" x="28.10" y="199.95">CN(1<tspan class="sub" dy="2.5">3/2</tspan><tspan dy="-2.5">-0</tspan><tspan class="sub" dy="2.5">1/2</tspan><tspan dy="-2.5">)/CO(1-0) (highest PC2)</tspan></text>
<line class="tk" x1="43.42" y1="187.65" x2="43.42" y2="189.65"/>
<line class="tk" x1="43.42" y1="368.75" x2="43.42" y2="366.75"/>
<line class="tk" x1="22.50" y1="208.62" x2="24.50" y2="208.62"/>
<line class="tk" x1="203.50" y1="208.62" x2="201.50" y2="208.62"/>
<text class="lab" x="21.50" y="211.02" text-anchor="end">10</text>
<text class="lab" x="43.42" y="375.05" text-anchor="middle">10</text>
<line class="tk" x1="78.21" y1="187.65" x2="78.21" y2="189.65"/>
<line class="tk" x1="78.21" y1="368.75" x2="78.21" y2="366.75"/>
<line class="tk" x1="22.50" y1="243.41" x2="24.50" y2="243.41"/>
<line class="tk" x1="203.50" y1="243.41" x2="201.50" y2="243.41"/>
<text class="lab" x="21.50" y="245.81" text-anchor="end">5</text>
<text class="lab" x="78.21" y="375.05" text-anchor="middle">5</text>
<line class="tk" x1="113.00" y1="187.65" x2="113.00" y2="189.65"/>
<line class="tk" x1="113.00" y1="368.75" x2="113.00" y2="366.75"/>
<line class="tk" x1="22.50" y1="278.20" x2="24.50" y2="278.20"/>
<line class="tk" x1="203.50" y1="278.20" x2="201.50" y2="278.20"/>
<text class="lab" x="21.50" y="280.60" text-anchor="end">0</text>
<text class="lab" x="113.00" y="375.05" text-anchor="middle">0</text>
<line class="tk" x1="147.79" y1="187.65" x2="147.79" y2="189.65"/>
<line class="tk" x1="147.79" y1="368.75" x2="147.79" y2="366.75"/>
<line class="tk" x1="22.50" y1="312.99" x2="24.50" y2="312.99"/>
<line class="tk" x1="203.50" y1="312.99" x2="201.50" y2="312.99"/>
<text class="lab" x="21.50" y="315.39" text-anchor="end">−5</text>
<text class="lab" x="147.79" y="375.05" text-anchor="middle">−5</text>
<line class="tk" x1="182.58" y1="187.65" x2="182.58" y2="189.65"/>
<line class="tk" x1="182.58" y1="368.75" x2="182.58" y2="366.75"/>
<line class="tk" x1="22.50" y1="347.78" x2="24.50" y2="347.78"/>
<line class="tk" x1="203.50" y1="347.78" x2="201.50" y2="347.78"/>
<text class="lab" x="21.50" y="350.18" text-anchor="end">−10</text>
<text class="lab" x="182.58" y="375.05" text-anchor="middle">−10</text>
<text class="lab" style="font-size:6.75px" transform="translate(7.50,277.60) rotate(-90)" text-anchor="middle">Decl. offset (arcsec)</text>
<text class="lab" x="113.00" y="381.65" text-anchor="middle">R.A. offset (arcsec)</text>
<rect x="22.50" y="187.65" width="181.00" height="181.10" fill="none" stroke="#585858" stroke-width="1.2"/>
<rect x="207.80" y="187.65" width="180.70" height="181.10" fill="#fff7fb"/>
<clipPath id="cp5"><rect x="207.80" y="187.65" width="180.70" height="181.10"/></clipPath>
<g clip-path="url(#cp5)">
<path d="M238.57,260.20 238.57,269.20 231.11,273.70 223.65,269.20 223.65,260.20 231.11,255.70Z" fill="#f9f2f8" stroke="#f9f2f8" stroke-width="0.5"/>
<path d="M246.03,246.70 246.03,255.70 238.57,260.20 231.11,255.70 231.11,246.70 238.57,242.20Z" fill="#f6eff7" stroke="#f6eff7" stroke-width="0.5"/>
<path d="M246.03,273.70 246.03,282.70 238.57,287.20 231.11,282.70 231.11,273.70 238.57,269.20Z" fill="#f3edf5" stroke="#f3edf5" stroke-width="0.5"/>
<path d="M253.49,233.20 253.49,242.20 246.03,246.70 238.57,242.20 238.57,233.20 246.03,228.70Z" fill="#ede8f3" stroke="#ede8f3" stroke-width="0.5"/>
<path d="M253.49,260.20 253.49,269.20 246.03,273.70 238.57,269.20 238.57,260.20 246.03,255.70Z" fill="#f6eff7" stroke="#f6eff7" stroke-width="0.5"/>
<path d="M253.49,314.20 253.49,323.20 246.03,327.70 238.57,323.20 238.57,314.20 246.03,309.70Z" fill="#f6eff7" stroke="#f6eff7" stroke-width="0.5"/>
<path d="M260.95,219.70 260.95,228.70 253.49,233.20 246.03,228.70 246.03,219.70 253.49,215.20Z" fill="#f9f2f8" stroke="#f9f2f8" stroke-width="0.5"/>
<path d="M260.95,246.70 260.95,255.70 253.49,260.20 246.03,255.70 246.03,246.70 253.49,242.20Z" fill="#f6eff7" stroke="#f6eff7" stroke-width="0.5"/>
<path d="M260.95,273.70 260.95,282.70 253.49,287.20 246.03,282.70 246.03,273.70 253.49,269.20Z" fill="#f0eaf4" stroke="#f0eaf4" stroke-width="0.5"/>
<path d="M268.41,233.20 268.41,242.20 260.95,246.70 253.49,242.20 253.49,233.20 260.95,228.70Z" fill="#c6cce3" stroke="#c6cce3" stroke-width="0.5"/>
<path d="M268.41,260.20 268.41,269.20 260.95,273.70 253.49,269.20 253.49,260.20 260.95,255.70Z" fill="#c0c9e2" stroke="#c0c9e2" stroke-width="0.5"/>
<path d="M268.41,287.20 268.41,296.20 260.95,300.70 253.49,296.20 253.49,287.20 260.95,282.70Z" fill="#f9f2f8" stroke="#f9f2f8" stroke-width="0.5"/>
<path d="M275.87,219.70 275.87,228.70 268.41,233.20 260.95,228.70 260.95,219.70 268.41,215.20Z" fill="#a4bcda" stroke="#a4bcda" stroke-width="0.5"/>
<path d="M275.87,246.70 275.87,255.70 268.41,260.20 260.95,255.70 260.95,246.70 268.41,242.20Z" fill="#5c9fc9" stroke="#5c9fc9" stroke-width="0.5"/>
<path d="M275.87,273.70 275.87,282.70 268.41,287.20 260.95,282.70 260.95,273.70 268.41,269.20Z" fill="#dbdaeb" stroke="#dbdaeb" stroke-width="0.5"/>
<path d="M275.87,300.70 275.87,309.70 268.41,314.20 260.95,309.70 260.95,300.70 268.41,296.20Z" fill="#f8f1f8" stroke="#f8f1f8" stroke-width="0.5"/>
<path d="M283.33,206.20 283.33,215.20 275.87,219.70 268.41,215.20 268.41,206.20 275.87,201.70Z" fill="#f9f2f8" stroke="#f9f2f8" stroke-width="0.5"/>
<path d="M283.33,233.20 283.33,242.20 275.87,246.70 268.41,242.20 268.41,233.20 275.87,228.70Z" fill="#4295c3" stroke="#4295c3" stroke-width="0.5"/>
<path d="M283.33,260.20 283.33,269.20 275.87,273.70 268.41,269.20 268.41,260.20 275.87,255.70Z" fill="#88b1d4" stroke="#88b1d4" stroke-width="0.5"/>
<path d="M283.33,287.20 283.33,296.20 275.87,300.70 268.41,296.20 268.41,287.20 275.87,282.70Z" fill="#dbdaeb" stroke="#dbdaeb" stroke-width="0.5"/>
<path d="M283.33,314.20 283.33,323.20 275.87,327.70 268.41,323.20 268.41,314.20 275.87,309.70Z" fill="#f3edf5" stroke="#f3edf5" stroke-width="0.5"/>
<path d="M290.79,219.70 290.79,228.70 283.33,233.20 275.87,228.70 275.87,219.70 283.33,215.20Z" fill="#dbdaeb" stroke="#dbdaeb" stroke-width="0.5"/>
<path d="M290.79,246.70 290.79,255.70 283.33,260.20 275.87,255.70 275.87,246.70 283.33,242.20Z" fill="#023858" stroke="#023858" stroke-width="0.5"/>
<path d="M290.79,273.70 290.79,282.70 283.33,287.20 275.87,282.70 275.87,273.70 283.33,269.20Z" fill="#88b1d4" stroke="#88b1d4" stroke-width="0.5"/>
<path d="M290.79,300.70 290.79,309.70 283.33,314.20 275.87,309.70 275.87,300.70 283.33,296.20Z" fill="#d7d6e9" stroke="#d7d6e9" stroke-width="0.5"/>
<path d="M290.79,327.70 290.79,336.70 283.33,341.20 275.87,336.70 275.87,327.70 283.33,323.20Z" fill="#f9f2f8" stroke="#f9f2f8" stroke-width="0.5"/>
<path d="M298.25,233.20 298.25,242.20 290.79,246.70 283.33,242.20 283.33,233.20 290.79,228.70Z" fill="#88b1d4" stroke="#88b1d4" stroke-width="0.5"/>
<path d="M298.25,260.20 298.25,269.20 290.79,273.70 283.33,269.20 283.33,260.20 290.79,255.70Z" fill="#187cb6" stroke="#187cb6" stroke-width="0.5"/>
<path d="M298.25,287.20 298.25,296.20 290.79,300.70 283.33,296.20 283.33,287.20 290.79,282.70Z" fill="#73a9cf" stroke="#73a9cf" stroke-width="0.5"/>
<path d="M298.25,314.20 298.25,323.20 290.79,327.70 283.33,323.20 283.33,314.20 290.79,309.70Z" fill="#e7e3f0" stroke="#e7e3f0" stroke-width="0.5"/>
<path d="M298.25,341.20 298.25,350.20 290.79,354.70 283.33,350.20 283.33,341.20 290.79,336.70Z" fill="#f9f2f8" stroke="#f9f2f8" stroke-width="0.5"/>
<path d="M305.71,219.70 305.71,228.70 298.25,233.20 290.79,228.70 290.79,219.70 298.25,215.20Z" fill="#dbdaeb" stroke="#dbdaeb" stroke-width="0.5"/>
<path d="M305.71,246.70 305.71,255.70 298.25,260.20 290.79,255.70 290.79,246.70 298.25,242.20Z" fill="#5c9fc9" stroke="#5c9fc9" stroke-width="0.5"/>
<path d="M305.71,273.70 305.71,282.70 298.25,287.20 290.79,282.70 290.79,273.70 298.25,269.20Z" fill="#4295c3" stroke="#4295c3" stroke-width="0.5"/>
<path d="M305.71,300.70 305.71,309.70 298.25,314.20 290.79,309.70 290.79,300.70 298.25,296.20Z" fill="#73a9cf" stroke="#73a9cf" stroke-width="0.5"/>
<path d="M305.71,327.70 305.71,336.70 298.25,341.20 290.79,336.70 290.79,327.70 298.25,323.20Z" fill="#f9f2f8" stroke="#f9f2f8" stroke-width="0.5"/>
<path d="M313.17,206.20 313.17,215.20 305.71,219.70 298.25,215.20 298.25,206.20 305.71,201.70Z" fill="#f8f1f8" stroke="#f8f1f8" stroke-width="0.5"/>
<path d="M313.17,233.20 313.17,242.20 305.71,246.70 298.25,242.20 298.25,233.20 305.71,228.70Z" fill="#dbdaeb" stroke="#dbdaeb" stroke-width="0.5"/>
<path d="M313.17,260.20 313.17,269.20 305.71,273.70 298.25,269.20 298.25,260.20 305.71,255.70Z" fill="#73a9cf" stroke="#73a9cf" stroke-width="0.5"/>
<path d="M313.17,287.20 313.17,296.20 305.71,300.70 298.25,296.20 298.25,287.20 305.71,282.70Z" fill="#73a9cf" stroke="#73a9cf" stroke-width="0.5"/>
<path d="M313.17,314.20 313.17,323.20 305.71,327.70 298.25,323.20 298.25,314.20 305.71,309.70Z" fill="#c6cce3" stroke="#c6cce3" stroke-width="0.5"/>
<path d="M313.17,341.20 313.17,350.20 305.71,354.70 298.25,350.20 298.25,341.20 305.71,336.70Z" fill="#f9f2f8" stroke="#f9f2f8" stroke-width="0.5"/>
<path d="M320.63,219.70 320.63,228.70 313.17,233.20 305.71,228.70 305.71,219.70 313.17,215.20Z" fill="#f6eff7" stroke="#f6eff7" stroke-width="0.5"/>
<path d="M320.63,246.70 320.63,255.70 313.17,260.20 305.71,255.70 305.71,246.70 313.17,242.20Z" fill="#e7e3f0" stroke="#e7e3f0" stroke-width="0.5"/>
<path d="M320.63,273.70 320.63,282.70 313.17,287.20 305.71,282.70 305.71,273.70 313.17,269.20Z" fill="#73a9cf" stroke="#73a9cf" stroke-width="0.5"/>
<path d="M320.63,300.70 320.63,309.70 313.17,314.20 305.71,309.70 305.71,300.70 313.17,296.20Z" fill="#023858" stroke="#023858" stroke-width="0.5"/>
<path d="M320.63,327.70 320.63,336.70 313.17,341.20 305.71,336.70 305.71,327.70 313.17,323.20Z" fill="#f8f1f8" stroke="#f8f1f8" stroke-width="0.5"/>
<path d="M328.09,233.20 328.09,242.20 320.63,246.70 313.17,242.20 313.17,233.20 320.63,228.70Z" fill="#f6eff7" stroke="#f6eff7" stroke-width="0.5"/>
<path d="M328.09,260.20 328.09,269.20 320.63,273.70 313.17,269.20 313.17,260.20 320.63,255.70Z" fill="#d7d6e9" stroke="#d7d6e9" stroke-width="0.5"/>
<path d="M328.09,287.20 328.09,296.20 320.63,300.70 313.17,296.20 313.17,287.20 320.63,282.70Z" fill="#94b6d7" stroke="#94b6d7" stroke-width="0.5"/>
<path d="M328.09,314.20 328.09,323.20 320.63,327.70 313.17,323.20 313.17,314.20 320.63,309.70Z" fill="#4295c3" stroke="#4295c3" stroke-width="0.5"/>
<path d="M335.55,246.70 335.55,255.70 328.09,260.20 320.63,255.70 320.63,246.70 328.09,242.20Z" fill="#f6eff7" stroke="#f6eff7" stroke-width="0.5"/>
<path d="M335.55,273.70 335.55,282.70 328.09,287.20 320.63,282.70 320.63,273.70 328.09,269.20Z" fill="#f0eaf4" stroke="#f0eaf4" stroke-width="0.5"/>
<path d="M335.55,300.70 335.55,309.70 328.09,314.20 320.63,309.70 320.63,300.70 328.09,296.20Z" fill="#d7d6e9" stroke="#d7d6e9" stroke-width="0.5"/>
<path d="M335.55,327.70 335.55,336.70 328.09,341.20 320.63,336.70 320.63,327.70 328.09,323.20Z" fill="#f3edf5" stroke="#f3edf5" stroke-width="0.5"/>
<path d="M343.01,260.20 343.01,269.20 335.55,273.70 328.09,269.20 328.09,260.20 335.55,255.70Z" fill="#f0eaf4" stroke="#f0eaf4" stroke-width="0.5"/>
<path d="M343.01,287.20 343.01,296.20 335.55,300.70 328.09,296.20 328.09,287.20 335.55,282.70Z" fill="#f6eff7" stroke="#f6eff7" stroke-width="0.5"/>
<path d="M343.01,314.20 343.01,323.20 335.55,327.70 328.09,323.20 328.09,314.20 335.55,309.70Z" fill="#f5eef6" stroke="#f5eef6" stroke-width="0.5"/>
<path d="M350.47,273.70 350.47,282.70 343.01,287.20 335.55,282.70 335.55,273.70 343.01,269.20Z" fill="#f3edf5" stroke="#f3edf5" stroke-width="0.5"/>
<path d="M350.47,300.70 350.47,309.70 343.01,314.20 335.55,309.70 335.55,300.70 343.01,296.20Z" fill="#f6eff7" stroke="#f6eff7" stroke-width="0.5"/>
<path d="M357.93,260.20 357.93,269.20 350.47,273.70 343.01,269.20 343.01,260.20 350.47,255.70Z" fill="#f8f1f8" stroke="#f8f1f8" stroke-width="0.5"/>
<path d="M357.93,314.20 357.93,323.20 350.47,327.70 343.01,323.20 343.01,314.20 350.47,309.70Z" fill="#f0eaf4" stroke="#f0eaf4" stroke-width="0.5"/>
</g>
<rect x="209.20" y="189.05" width="177.90" height="178.30" fill="none" stroke="#fff" stroke-opacity="0.55" stroke-width="1"/>
<circle cx="298.15" cy="278.20" r="57.3" fill="none" stroke="#000" stroke-width="1.2"/>
<path class="dl" d="M308.00,221.75L298.15,278.20M288.30,334.65L298.15,278.20"/>
<path class="dl" d="M244.24,258.79L298.15,278.20M352.06,297.61L298.15,278.20"/>
<rect x="212.40" y="287.85" width="7.30" height="76.60" fill="url(#g1)" stroke="#999" stroke-width="0.6"/>
<line x1="218.40" y1="364.45" x2="219.70" y2="364.45" stroke="#777" stroke-width="0.5"/>
<text class="cb" x="220.50" y="366.50">0.00</text>
<line x1="218.40" y1="356.75" x2="219.70" y2="356.75" stroke="#777" stroke-width="0.5"/>
<text class="cb" x="220.50" y="358.80">0.02</text>
<line x1="218.40" y1="349.05" x2="219.70" y2="349.05" stroke="#777" stroke-width="0.5"/>
<text class="cb" x="220.50" y="351.10">0.04</text>
<line x1="218.40" y1="341.35" x2="219.70" y2="341.35" stroke="#777" stroke-width="0.5"/>
<text class="cb" x="220.50" y="343.40">0.06</text>
<line x1="218.40" y1="333.66" x2="219.70" y2="333.66" stroke="#777" stroke-width="0.5"/>
<text class="cb" x="220.50" y="335.71">0.08</text>
<line x1="218.40" y1="325.96" x2="219.70" y2="325.96" stroke="#777" stroke-width="0.5"/>
<text class="cb" x="220.50" y="328.01">0.10</text>
<line x1="218.40" y1="318.26" x2="219.70" y2="318.26" stroke="#777" stroke-width="0.5"/>
<text class="cb" x="220.50" y="320.31">0.12</text>
<line x1="218.40" y1="310.56" x2="219.70" y2="310.56" stroke="#777" stroke-width="0.5"/>
<text class="cb" x="220.50" y="312.61">0.14</text>
<line x1="218.40" y1="302.86" x2="219.70" y2="302.86" stroke="#777" stroke-width="0.5"/>
<text class="cb" x="220.50" y="304.91">0.16</text>
<line x1="218.40" y1="295.16" x2="219.70" y2="295.16" stroke="#777" stroke-width="0.5"/>
<text class="cb" x="220.50" y="297.21">0.18</text>
<line x1="357.15" y1="347.70" x2="368.35" y2="347.70" stroke="#000" stroke-width="1.3"/>
<text class="lab" x="368.60" y="355.85" text-anchor="end">100 pc</text>
<text class="title" x="213.40" y="199.95">CCH(1-0)/CO(1-0) (2nd highest PC2)</text>
<line class="tk" x1="228.57" y1="187.65" x2="228.57" y2="189.65"/>
<line class="tk" x1="228.57" y1="368.75" x2="228.57" y2="366.75"/>
<line class="tk" x1="207.80" y1="208.62" x2="209.80" y2="208.62"/>
<line class="tk" x1="388.50" y1="208.62" x2="386.50" y2="208.62"/>
<text class="lab" x="228.57" y="375.05" text-anchor="middle">10</text>
<line class="tk" x1="263.36" y1="187.65" x2="263.36" y2="189.65"/>
<line class="tk" x1="263.36" y1="368.75" x2="263.36" y2="366.75"/>
<line class="tk" x1="207.80" y1="243.41" x2="209.80" y2="243.41"/>
<line class="tk" x1="388.50" y1="243.41" x2="386.50" y2="243.41"/>
<text class="lab" x="263.36" y="375.05" text-anchor="middle">5</text>
<line class="tk" x1="298.15" y1="187.65" x2="298.15" y2="189.65"/>
<line class="tk" x1="298.15" y1="368.75" x2="298.15" y2="366.75"/>
<line class="tk" x1="207.80" y1="278.20" x2="209.80" y2="278.20"/>
<line class="tk" x1="388.50" y1="278.20" x2="386.50" y2="278.20"/>
<text class="lab" x="298.15" y="375.05" text-anchor="middle">0</text>
<line class="tk" x1="332.94" y1="187.65" x2="332.94" y2="189.65"/>
<line class="tk" x1="332.94" y1="368.75" x2="332.94" y2="366.75"/>
<line class="tk" x1="207.80" y1="312.99" x2="209.80" y2="312.99"/>
<line class="tk" x1="388.50" y1="312.99" x2="386.50" y2="312.99"/>
<text class="lab" x="332.94" y="375.05" text-anchor="middle">−5</text>
<line class="tk" x1="367.73" y1="187.65" x2="367.73" y2="189.65"/>
<line class="tk" x1="367.73" y1="368.75" x2="367.73" y2="366.75"/>
<line class="tk" x1="207.80" y1="347.78" x2="209.80" y2="347.78"/>
<line class="tk" x1="388.50" y1="347.78" x2="386.50" y2="347.78"/>
<text class="lab" x="367.73" y="375.05" text-anchor="middle">−10</text>
<text class="lab" x="298.15" y="381.65" text-anchor="middle">R.A. offset (arcsec)</text>
<rect x="207.80" y="187.65" width="180.70" height="181.10" fill="none" stroke="#585858" stroke-width="1.2"/>
<rect x="392.70" y="187.65" width="180.90" height="181.10" fill="#fff7fb"/>
<clipPath id="cp6"><rect x="392.70" y="187.65" width="180.90" height="181.10"/></clipPath>
<g clip-path="url(#cp6)">
<path d="M423.57,260.20 423.57,269.20 416.11,273.70 408.65,269.20 408.65,260.20 416.11,255.70Z" fill="#f5eef6" stroke="#f5eef6" stroke-width="0.5"/>
<path d="M431.03,246.70 431.03,255.70 423.57,260.20 416.11,255.70 416.11,246.70 423.57,242.20Z" fill="#f6eff7" stroke="#f6eff7" stroke-width="0.5"/>
<path d="M431.03,273.70 431.03,282.70 423.57,287.20 416.11,282.70 416.11,273.70 423.57,269.20Z" fill="#f6eff7" stroke="#f6eff7" stroke-width="0.5"/>
<path d="M431.03,300.70 431.03,309.70 423.57,314.20 416.11,309.70 416.11,300.70 423.57,296.20Z" fill="#f9f2f8" stroke="#f9f2f8" stroke-width="0.5"/>
<path d="M438.49,233.20 438.49,242.20 431.03,246.70 423.57,242.20 423.57,233.20 431.03,228.70Z" fill="#f3edf5" stroke="#f3edf5" stroke-width="0.5"/>
<path d="M438.49,260.20 438.49,269.20 431.03,273.70 423.57,269.20 423.57,260.20 431.03,255.70Z" fill="#f6eff7" stroke="#f6eff7" stroke-width="0.5"/>
<path d="M438.49,314.20 438.49,323.20 431.03,327.70 423.57,323.20 423.57,314.20 431.03,309.70Z" fill="#f8f1f8" stroke="#f8f1f8" stroke-width="0.5"/>
<path d="M445.95,219.70 445.95,228.70 438.49,233.20 431.03,228.70 431.03,219.70 438.49,215.20Z" fill="#f8f1f8" stroke="#f8f1f8" stroke-width="0.5"/>
<path d="M445.95,246.70 445.95,255.70 438.49,260.20 431.03,255.70 431.03,246.70 438.49,242.20Z" fill="#f3edf5" stroke="#f3edf5" stroke-width="0.5"/>
<path d="M445.95,273.70 445.95,282.70 438.49,287.20 431.03,282.70 431.03,273.70 438.49,269.20Z" fill="#f6eff7" stroke="#f6eff7" stroke-width="0.5"/>
<path d="M453.41,233.20 453.41,242.20 445.95,246.70 438.49,242.20 438.49,233.20 445.95,228.70Z" fill="#f6eff7" stroke="#f6eff7" stroke-width="0.5"/>
<path d="M453.41,260.20 453.41,269.20 445.95,273.70 438.49,269.20 438.49,260.20 445.95,255.70Z" fill="#f0eaf4" stroke="#f0eaf4" stroke-width="0.5"/>
<path d="M453.41,287.20 453.41,296.20 445.95,300.70 438.49,296.20 438.49,287.20 445.95,282.70Z" fill="#f8f1f8" stroke="#f8f1f8" stroke-width="0.5"/>
<path d="M460.87,219.70 460.87,228.70 453.41,233.20 445.95,228.70 445.95,219.70 453.41,215.20Z" fill="#f0eaf4" stroke="#f0eaf4" stroke-width="0.5"/>
<path d="M460.87,246.70 460.87,255.70 453.41,260.20 445.95,255.70 445.95,246.70 453.41,242.20Z" fill="#d0d1e6" stroke="#d0d1e6" stroke-width="0.5"/>
<path d="M460.87,273.70 460.87,282.70 453.41,287.20 445.95,282.70 445.95,273.70 453.41,269.20Z" fill="#e0dded" stroke="#e0dded" stroke-width="0.5"/>
<path d="M460.87,300.70 460.87,309.70 453.41,314.20 445.95,309.70 445.95,300.70 453.41,296.20Z" fill="#f9f2f8" stroke="#f9f2f8" stroke-width="0.5"/>
<path d="M460.87,327.70 460.87,336.70 453.41,341.20 445.95,336.70 445.95,327.70 453.41,323.20Z" fill="#f9f2f8" stroke="#f9f2f8" stroke-width="0.5"/>
<path d="M468.33,206.20 468.33,215.20 460.87,219.70 453.41,215.20 453.41,206.20 460.87,201.70Z" fill="#f9f2f8" stroke="#f9f2f8" stroke-width="0.5"/>
<path d="M468.33,233.20 468.33,242.20 460.87,246.70 453.41,242.20 453.41,233.20 460.87,228.70Z" fill="#d0d1e6" stroke="#d0d1e6" stroke-width="0.5"/>
<path d="M468.33,260.20 468.33,269.20 460.87,273.70 453.41,269.20 453.41,260.20 460.87,255.70Z" fill="#afc1dd" stroke="#afc1dd" stroke-width="0.5"/>
<path d="M468.33,287.20 468.33,296.20 460.87,300.70 453.41,296.20 453.41,287.20 460.87,282.70Z" fill="#c6cce3" stroke="#c6cce3" stroke-width="0.5"/>
<path d="M468.33,314.20 468.33,323.20 460.87,327.70 453.41,323.20 453.41,314.20 460.87,309.70Z" fill="#f9f2f8" stroke="#f9f2f8" stroke-width="0.5"/>
<path d="M475.79,219.70 475.79,228.70 468.33,233.20 460.87,228.70 460.87,219.70 468.33,215.20Z" fill="#f6eff7" stroke="#f6eff7" stroke-width="0.5"/>
<path d="M475.79,246.70 475.79,255.70 468.33,260.20 460.87,255.70 460.87,246.70 468.33,242.20Z" fill="#88b1d4" stroke="#88b1d4" stroke-width="0.5"/>
<path d="M475.79,273.70 475.79,282.70 468.33,287.20 460.87,282.70 460.87,273.70 468.33,269.20Z" fill="#5c9fc9" stroke="#5c9fc9" stroke-width="0.5"/>
<path d="M475.79,300.70 475.79,309.70 468.33,314.20 460.87,309.70 460.87,300.70 468.33,296.20Z" fill="#dbdaeb" stroke="#dbdaeb" stroke-width="0.5"/>
<path d="M483.25,233.20 483.25,242.20 475.79,246.70 468.33,242.20 468.33,233.20 475.79,228.70Z" fill="#dbdaeb" stroke="#dbdaeb" stroke-width="0.5"/>
<path d="M483.25,260.20 483.25,269.20 475.79,273.70 468.33,269.20 468.33,260.20 475.79,255.70Z" fill="#023858" stroke="#023858" stroke-width="0.5"/>
<path d="M483.25,287.20 483.25,296.20 475.79,300.70 468.33,296.20 468.33,287.20 475.79,282.70Z" fill="#73a9cf" stroke="#73a9cf" stroke-width="0.5"/>
<path d="M483.25,314.20 483.25,323.20 475.79,327.70 468.33,323.20 468.33,314.20 475.79,309.70Z" fill="#f0eaf4" stroke="#f0eaf4" stroke-width="0.5"/>
<path d="M483.25,341.20 483.25,350.20 475.79,354.70 468.33,350.20 468.33,341.20 475.79,336.70Z" fill="#f8f1f8" stroke="#f8f1f8" stroke-width="0.5"/>
<path d="M490.71,219.70 490.71,228.70 483.25,233.20 475.79,228.70 475.79,219.70 483.25,215.20Z" fill="#f3edf5" stroke="#f3edf5" stroke-width="0.5"/>
<path d="M490.71,246.70 490.71,255.70 483.25,260.20 475.79,255.70 475.79,246.70 483.25,242.20Z" fill="#c0c9e2" stroke="#c0c9e2" stroke-width="0.5"/>
<path d="M490.71,273.70 490.71,282.70 483.25,287.20 475.79,282.70 475.79,273.70 483.25,269.20Z" fill="#2081b9" stroke="#2081b9" stroke-width="0.5"/>
<path d="M490.71,300.70 490.71,309.70 483.25,314.20 475.79,309.70 475.79,300.70 483.25,296.20Z" fill="#5c9fc9" stroke="#5c9fc9" stroke-width="0.5"/>
<path d="M490.71,327.70 490.71,336.70 483.25,341.20 475.79,336.70 475.79,327.70 483.25,323.20Z" fill="#f8f1f8" stroke="#f8f1f8" stroke-width="0.5"/>
<path d="M498.17,206.20 498.17,215.20 490.71,219.70 483.25,215.20 483.25,206.20 490.71,201.70Z" fill="#f8f1f8" stroke="#f8f1f8" stroke-width="0.5"/>
<path d="M498.17,233.20 498.17,242.20 490.71,246.70 483.25,242.20 483.25,233.20 490.71,228.70Z" fill="#f0eaf4" stroke="#f0eaf4" stroke-width="0.5"/>
<path d="M498.17,260.20 498.17,269.20 490.71,273.70 483.25,269.20 483.25,260.20 490.71,255.70Z" fill="#4295c3" stroke="#4295c3" stroke-width="0.5"/>
<path d="M498.17,287.20 498.17,296.20 490.71,300.70 483.25,296.20 483.25,287.20 490.71,282.70Z" fill="#2c89bd" stroke="#2c89bd" stroke-width="0.5"/>
<path d="M498.17,314.20 498.17,323.20 490.71,327.70 483.25,323.20 483.25,314.20 490.71,309.70Z" fill="#dbdaeb" stroke="#dbdaeb" stroke-width="0.5"/>
<path d="M498.17,341.20 498.17,350.20 490.71,354.70 483.25,350.20 483.25,341.20 490.71,336.70Z" fill="#f8f1f8" stroke="#f8f1f8" stroke-width="0.5"/>
<path d="M505.63,219.70 505.63,228.70 498.17,233.20 490.71,228.70 490.71,219.70 498.17,215.20Z" fill="#f6eff7" stroke="#f6eff7" stroke-width="0.5"/>
<path d="M505.63,246.70 505.63,255.70 498.17,260.20 490.71,255.70 490.71,246.70 498.17,242.20Z" fill="#e7e3f0" stroke="#e7e3f0" stroke-width="0.5"/>
<path d="M505.63,273.70 505.63,282.70 498.17,287.20 490.71,282.70 490.71,273.70 498.17,269.20Z" fill="#88b1d4" stroke="#88b1d4" stroke-width="0.5"/>
<path d="M505.63,300.70 505.63,309.70 498.17,314.20 490.71,309.70 490.71,300.70 498.17,296.20Z" fill="#023858" stroke="#023858" stroke-width="0.5"/>
<path d="M505.63,327.70 505.63,336.70 498.17,341.20 490.71,336.70 490.71,327.70 498.17,323.20Z" fill="#f6eff7" stroke="#f6eff7" stroke-width="0.5"/>
<path d="M513.09,233.20 513.09,242.20 505.63,246.70 498.17,242.20 498.17,233.20 505.63,228.70Z" fill="#f3edf5" stroke="#f3edf5" stroke-width="0.5"/>
<path d="M513.09,260.20 513.09,269.20 505.63,273.70 498.17,269.20 498.17,260.20 505.63,255.70Z" fill="#c0c9e2" stroke="#c0c9e2" stroke-width="0.5"/>
<path d="M513.09,287.20 513.09,296.20 505.63,300.70 498.17,296.20 498.17,287.20 505.63,282.70Z" fill="#94b6d7" stroke="#94b6d7" stroke-width="0.5"/>
<path d="M513.09,314.20 513.09,323.20 505.63,327.70 498.17,323.20 498.17,314.20 505.63,309.70Z" fill="#b5c4df" stroke="#b5c4df" stroke-width="0.5"/>
<path d="M520.55,219.70 520.55,228.70 513.09,233.20 505.63,228.70 505.63,219.70 513.09,215.20Z" fill="#f8f1f8" stroke="#f8f1f8" stroke-width="0.5"/>
<path d="M520.55,246.70 520.55,255.70 513.09,260.20 505.63,255.70 505.63,246.70 513.09,242.20Z" fill="#f3edf5" stroke="#f3edf5" stroke-width="0.5"/>
<path d="M520.55,273.70 520.55,282.70 513.09,287.20 505.63,282.70 505.63,273.70 513.09,269.20Z" fill="#e0dded" stroke="#e0dded" stroke-width="0.5"/>
<path d="M520.55,300.70 520.55,309.70 513.09,314.20 505.63,309.70 505.63,300.70 513.09,296.20Z" fill="#03456c" stroke="#03456c" stroke-width="0.5"/>
<path d="M520.55,327.70 520.55,336.70 513.09,341.20 505.63,336.70 505.63,327.70 513.09,323.20Z" fill="#f6eff7" stroke="#f6eff7" stroke-width="0.5"/>
<path d="M528.01,233.20 528.01,242.20 520.55,246.70 513.09,242.20 513.09,233.20 520.55,228.70Z" fill="#ede8f3" stroke="#ede8f3" stroke-width="0.5"/>
<path d="M528.01,260.20 528.01,269.20 520.55,273.70 513.09,269.20 513.09,260.20 520.55,255.70Z" fill="#f3edf5" stroke="#f3edf5" stroke-width="0.5"/>
<path d="M528.01,287.20 528.01,296.20 520.55,300.70 513.09,296.20 513.09,287.20 520.55,282.70Z" fill="#f3edf5" stroke="#f3edf5" stroke-width="0.5"/>
<path d="M528.01,314.20 528.01,323.20 520.55,327.70 513.09,323.20 513.09,314.20 520.55,309.70Z" fill="#f6eff7" stroke="#f6eff7" stroke-width="0.5"/>
<path d="M535.47,246.70 535.47,255.70 528.01,260.20 520.55,255.70 520.55,246.70 528.01,242.20Z" fill="#f3edf5" stroke="#f3edf5" stroke-width="0.5"/>
<path d="M535.47,300.70 535.47,309.70 528.01,314.20 520.55,309.70 520.55,300.70 528.01,296.20Z" fill="#f6eff7" stroke="#f6eff7" stroke-width="0.5"/>
<path d="M542.93,233.20 542.93,242.20 535.47,246.70 528.01,242.20 528.01,233.20 535.47,228.70Z" fill="#f0eaf4" stroke="#f0eaf4" stroke-width="0.5"/>
<path d="M542.93,260.20 542.93,269.20 535.47,273.70 528.01,269.20 528.01,260.20 535.47,255.70Z" fill="#f6eff7" stroke="#f6eff7" stroke-width="0.5"/>
<path d="M542.93,314.20 542.93,323.20 535.47,327.70 528.01,323.20 528.01,314.20 535.47,309.70Z" fill="#f8f1f8" stroke="#f8f1f8" stroke-width="0.5"/>
<path d="M550.39,246.70 550.39,255.70 542.93,260.20 535.47,255.70 535.47,246.70 542.93,242.20Z" fill="#afc1dd" stroke="#afc1dd" stroke-width="0.5"/>
<path d="M550.39,273.70 550.39,282.70 542.93,287.20 535.47,282.70 535.47,273.70 542.93,269.20Z" fill="#f9f2f8" stroke="#f9f2f8" stroke-width="0.5"/>
<path d="M557.85,287.20 557.85,296.20 550.39,300.70 542.93,296.20 542.93,287.20 550.39,282.70Z" fill="#f8f1f8" stroke="#f8f1f8" stroke-width="0.5"/>
</g>
<rect x="394.10" y="189.05" width="178.10" height="178.30" fill="none" stroke="#fff" stroke-opacity="0.55" stroke-width="1"/>
<circle cx="483.15" cy="278.20" r="57.3" fill="none" stroke="#000" stroke-width="1.2"/>
<path class="dl" d="M493.00,221.75L483.15,278.20M473.30,334.65L483.15,278.20"/>
<path class="dl" d="M429.24,258.79L483.15,278.20M537.06,297.61L483.15,278.20"/>
<rect x="397.30" y="287.85" width="7.30" height="76.60" fill="url(#g1)" stroke="#999" stroke-width="0.6"/>
<line x1="403.30" y1="364.45" x2="404.60" y2="364.45" stroke="#777" stroke-width="0.5"/>
<text class="cb" x="405.40" y="366.50">0.00</text>
<line x1="403.30" y1="356.02" x2="404.60" y2="356.02" stroke="#777" stroke-width="0.5"/>
<text class="cb" x="405.40" y="358.07">0.03</text>
<line x1="403.30" y1="347.58" x2="404.60" y2="347.58" stroke="#777" stroke-width="0.5"/>
<text class="cb" x="405.40" y="349.63">0.06</text>
<line x1="403.30" y1="339.15" x2="404.60" y2="339.15" stroke="#777" stroke-width="0.5"/>
<text class="cb" x="405.40" y="341.20">0.09</text>
<line x1="403.30" y1="330.72" x2="404.60" y2="330.72" stroke="#777" stroke-width="0.5"/>
<text class="cb" x="405.40" y="332.77">0.12</text>
<line x1="403.30" y1="322.28" x2="404.60" y2="322.28" stroke="#777" stroke-width="0.5"/>
<text class="cb" x="405.40" y="324.33">0.15</text>
<line x1="403.30" y1="313.85" x2="404.60" y2="313.85" stroke="#777" stroke-width="0.5"/>
<text class="cb" x="405.40" y="315.90">0.18</text>
<line x1="403.30" y1="305.42" x2="404.60" y2="305.42" stroke="#777" stroke-width="0.5"/>
<text class="cb" x="405.40" y="307.47">0.21</text>
<line x1="403.30" y1="296.99" x2="404.60" y2="296.99" stroke="#777" stroke-width="0.5"/>
<text class="cb" x="405.40" y="299.04">0.24</text>
<line x1="403.30" y1="288.55" x2="404.60" y2="288.55" stroke="#777" stroke-width="0.5"/>
<text class="cb" x="405.40" y="290.60">0.27</text>
<line x1="542.05" y1="347.70" x2="553.25" y2="347.70" stroke="#000" stroke-width="1.3"/>
<text class="lab" x="553.50" y="355.85" text-anchor="end">100 pc</text>
<text class="title" x="398.30" y="199.95">HNC(1-0)/CO(1-0) (3rd highest PC2)</text>
<line class="tk" x1="413.57" y1="187.65" x2="413.57" y2="189.65"/>
<line class="tk" x1="413.57" y1="368.75" x2="413.57" y2="366.75"/>
<line class="tk" x1="392.70" y1="208.62" x2="394.70" y2="208.62"/>
<line class="tk" x1="573.60" y1="208.62" x2="571.60" y2="208.62"/>
<text class="lab" x="413.57" y="375.05" text-anchor="middle">10</text>
<line class="tk" x1="448.36" y1="187.65" x2="448.36" y2="189.65"/>
<line class="tk" x1="448.36" y1="368.75" x2="448.36" y2="366.75"/>
<line class="tk" x1="392.70" y1="243.41" x2="394.70" y2="243.41"/>
<line class="tk" x1="573.60" y1="243.41" x2="571.60" y2="243.41"/>
<text class="lab" x="448.36" y="375.05" text-anchor="middle">5</text>
<line class="tk" x1="483.15" y1="187.65" x2="483.15" y2="189.65"/>
<line class="tk" x1="483.15" y1="368.75" x2="483.15" y2="366.75"/>
<line class="tk" x1="392.70" y1="278.20" x2="394.70" y2="278.20"/>
<line class="tk" x1="573.60" y1="278.20" x2="571.60" y2="278.20"/>
<text class="lab" x="483.15" y="375.05" text-anchor="middle">0</text>
<line class="tk" x1="517.94" y1="187.65" x2="517.94" y2="189.65"/>
<line class="tk" x1="517.94" y1="368.75" x2="517.94" y2="366.75"/>
<line class="tk" x1="392.70" y1="312.99" x2="394.70" y2="312.99"/>
<line class="tk" x1="573.60" y1="312.99" x2="571.60" y2="312.99"/>
<text class="lab" x="517.94" y="375.05" text-anchor="middle">−5</text>
<line class="tk" x1="552.73" y1="187.65" x2="552.73" y2="189.65"/>
<line class="tk" x1="552.73" y1="368.75" x2="552.73" y2="366.75"/>
<line class="tk" x1="392.70" y1="347.78" x2="394.70" y2="347.78"/>
<line class="tk" x1="573.60" y1="347.78" x2="571.60" y2="347.78"/>
<text class="lab" x="552.73" y="375.05" text-anchor="middle">−10</text>
<text class="lab" x="483.15" y="381.65" text-anchor="middle">R.A. offset (arcsec)</text>
<rect x="392.70" y="187.65" width="180.90" height="181.10" fill="none" stroke="#585858" stroke-width="1.2"/>
<rect x="578.00" y="187.65" width="180.60" height="181.10" fill="#fff7fb"/>
<clipPath id="cp7"><rect x="578.00" y="187.65" width="180.60" height="181.10"/></clipPath>
<g clip-path="url(#cp7)">
<path d="M623.64,233.20 623.64,242.20 616.18,246.70 608.72,242.20 608.72,233.20 616.18,228.70Z" fill="#f3edf5" stroke="#f3edf5" stroke-width="0.5"/>
<path d="M623.64,260.20 623.64,269.20 616.18,273.70 608.72,269.20 608.72,260.20 616.18,255.70Z" fill="#fbf3f9" stroke="#fbf3f9" stroke-width="0.5"/>
<path d="M631.10,246.70 631.10,255.70 623.64,260.20 616.18,255.70 616.18,246.70 623.64,242.20Z" fill="#f9f2f8" stroke="#f9f2f8" stroke-width="0.5"/>
<path d="M638.56,233.20 638.56,242.20 631.10,246.70 623.64,242.20 623.64,233.20 631.10,228.70Z" fill="#f3edf5" stroke="#f3edf5" stroke-width="0.5"/>
<path d="M638.56,260.20 638.56,269.20 631.10,273.70 623.64,269.20 623.64,260.20 631.10,255.70Z" fill="#f0eaf4" stroke="#f0eaf4" stroke-width="0.5"/>
<path d="M646.02,219.70 646.02,228.70 638.56,233.20 631.10,228.70 631.10,219.70 638.56,215.20Z" fill="#f0eaf4" stroke="#f0eaf4" stroke-width="0.5"/>
<path d="M646.02,246.70 646.02,255.70 638.56,260.20 631.10,255.70 631.10,246.70 638.56,242.20Z" fill="#c6cce3" stroke="#c6cce3" stroke-width="0.5"/>
<path d="M646.02,273.70 646.02,282.70 638.56,287.20 631.10,282.70 631.10,273.70 638.56,269.20Z" fill="#dbdaeb" stroke="#dbdaeb" stroke-width="0.5"/>
<path d="M653.48,233.20 653.48,242.20 646.02,246.70 638.56,242.20 638.56,233.20 646.02,228.70Z" fill="#ede8f3" stroke="#ede8f3" stroke-width="0.5"/>
<path d="M653.48,260.20 653.48,269.20 646.02,273.70 638.56,269.20 638.56,260.20 646.02,255.70Z" fill="#9cb9d9" stroke="#9cb9d9" stroke-width="0.5"/>
<path d="M653.48,287.20 653.48,296.20 646.02,300.70 638.56,296.20 638.56,287.20 646.02,282.70Z" fill="#c6cce3" stroke="#c6cce3" stroke-width="0.5"/>
<path d="M660.94,219.70 660.94,228.70 653.48,233.20 646.02,228.70 646.02,219.70 653.48,215.20Z" fill="#f9f2f8" stroke="#f9f2f8" stroke-width="0.5"/>
<path d="M660.94,246.70 660.94,255.70 653.48,260.20 646.02,255.70 646.02,246.70 653.48,242.20Z" fill="#5c9fc9" stroke="#5c9fc9" stroke-width="0.5"/>
<path d="M660.94,273.70 660.94,282.70 653.48,287.20 646.02,282.70 646.02,273.70 653.48,269.20Z" fill="#73a9cf" stroke="#73a9cf" stroke-width="0.5"/>
<path d="M660.94,300.70 660.94,309.70 653.48,314.20 646.02,309.70 646.02,300.70 653.48,296.20Z" fill="#f0eaf4" stroke="#f0eaf4" stroke-width="0.5"/>
<path d="M668.40,233.20 668.40,242.20 660.94,246.70 653.48,242.20 653.48,233.20 660.94,228.70Z" fill="#ede8f3" stroke="#ede8f3" stroke-width="0.5"/>
<path d="M668.40,260.20 668.40,269.20 660.94,273.70 653.48,269.20 653.48,260.20 660.94,255.70Z" fill="#023858" stroke="#023858" stroke-width="0.5"/>
<path d="M668.40,287.20 668.40,296.20 660.94,300.70 653.48,296.20 653.48,287.20 660.94,282.70Z" fill="#73a9cf" stroke="#73a9cf" stroke-width="0.5"/>
<path d="M675.86,219.70 675.86,228.70 668.40,233.20 660.94,228.70 660.94,219.70 668.40,215.20Z" fill="#f9f2f8" stroke="#f9f2f8" stroke-width="0.5"/>
<path d="M675.86,246.70 675.86,255.70 668.40,260.20 660.94,255.70 660.94,246.70 668.40,242.20Z" fill="#c0c9e2" stroke="#c0c9e2" stroke-width="0.5"/>
<path d="M675.86,273.70 675.86,282.70 668.40,287.20 660.94,282.70 660.94,273.70 668.40,269.20Z" fill="#187cb6" stroke="#187cb6" stroke-width="0.5"/>
<path d="M675.86,300.70 675.86,309.70 668.40,314.20 660.94,309.70 660.94,300.70 668.40,296.20Z" fill="#a4bcda" stroke="#a4bcda" stroke-width="0.5"/>
<path d="M683.32,233.20 683.32,242.20 675.86,246.70 668.40,242.20 668.40,233.20 675.86,228.70Z" fill="#f3edf5" stroke="#f3edf5" stroke-width="0.5"/>
<path d="M683.32,260.20 683.32,269.20 675.86,273.70 668.40,269.20 668.40,260.20 675.86,255.70Z" fill="#4295c3" stroke="#4295c3" stroke-width="0.5"/>
<path d="M683.32,287.20 683.32,296.20 675.86,300.70 668.40,296.20 668.40,287.20 675.86,282.70Z" fill="#3991c1" stroke="#3991c1" stroke-width="0.5"/>
<path d="M683.32,314.20 683.32,323.20 675.86,327.70 668.40,323.20 668.40,314.20 675.86,309.70Z" fill="#ede8f3" stroke="#ede8f3" stroke-width="0.5"/>
<path d="M690.78,246.70 690.78,255.70 683.32,260.20 675.86,255.70 675.86,246.70 683.32,242.20Z" fill="#e7e3f0" stroke="#e7e3f0" stroke-width="0.5"/>
<path d="M690.78,273.70 690.78,282.70 683.32,287.20 675.86,282.70 675.86,273.70 683.32,269.20Z" fill="#73a9cf" stroke="#73a9cf" stroke-width="0.5"/>
<path d="M690.78,300.70 690.78,309.70 683.32,314.20 675.86,309.70 675.86,300.70 683.32,296.20Z" fill="#023858" stroke="#023858" stroke-width="0.5"/>
<path d="M698.24,233.20 698.24,242.20 690.78,246.70 683.32,242.20 683.32,233.20 690.78,228.70Z" fill="#f9f2f8" stroke="#f9f2f8" stroke-width="0.5"/>
<path d="M698.24,260.20 698.24,269.20 690.78,273.70 683.32,269.20 683.32,260.20 690.78,255.70Z" fill="#c0c9e2" stroke="#c0c9e2" stroke-width="0.5"/>
<path d="M698.24,287.20 698.24,296.20 690.78,300.70 683.32,296.20 683.32,287.20 690.78,282.70Z" fill="#73a9cf" stroke="#73a9cf" stroke-width="0.5"/>
<path d="M698.24,314.20 698.24,323.20 690.78,327.70 683.32,323.20 683.32,314.20 690.78,309.70Z" fill="#f8f1f8" stroke="#f8f1f8" stroke-width="0.5"/>
<path d="M705.70,246.70 705.70,255.70 698.24,260.20 690.78,255.70 690.78,246.70 698.24,242.20Z" fill="#f9f2f8" stroke="#f9f2f8" stroke-width="0.5"/>
<path d="M705.70,273.70 705.70,282.70 698.24,287.20 690.78,282.70 690.78,273.70 698.24,269.20Z" fill="#f6eff7" stroke="#f6eff7" stroke-width="0.5"/>
<path d="M705.70,300.70 705.70,309.70 698.24,314.20 690.78,309.70 690.78,300.70 698.24,296.20Z" fill="#d7d6e9" stroke="#d7d6e9" stroke-width="0.5"/>
<path d="M713.16,260.20 713.16,269.20 705.70,273.70 698.24,269.20 698.24,260.20 705.70,255.70Z" fill="#f6eff7" stroke="#f6eff7" stroke-width="0.5"/>
<path d="M713.16,287.20 713.16,296.20 705.70,300.70 698.24,296.20 698.24,287.20 705.70,282.70Z" fill="#f6eff7" stroke="#f6eff7" stroke-width="0.5"/>
<path d="M713.16,314.20 713.16,323.20 705.70,327.70 698.24,323.20 698.24,314.20 705.70,309.70Z" fill="#fbf3f9" stroke="#fbf3f9" stroke-width="0.5"/>
<path d="M728.08,314.20 728.08,323.20 720.62,327.70 713.16,323.20 713.16,314.20 720.62,309.70Z" fill="#f8f1f8" stroke="#f8f1f8" stroke-width="0.5"/>
</g>
<rect x="579.40" y="189.05" width="177.80" height="178.30" fill="none" stroke="#fff" stroke-opacity="0.55" stroke-width="1"/>
<circle cx="668.30" cy="278.20" r="57.3" fill="none" stroke="#000" stroke-width="1.2"/>
<path class="dl" d="M678.15,221.75L668.30,278.20M658.45,334.65L668.30,278.20"/>
<path class="dl" d="M614.39,258.79L668.30,278.20M722.21,297.61L668.30,278.20"/>
<rect x="582.60" y="287.85" width="7.30" height="76.60" fill="url(#g1)" stroke="#999" stroke-width="0.6"/>
<line x1="588.60" y1="364.45" x2="589.90" y2="364.45" stroke="#777" stroke-width="0.5"/>
<text class="cb" x="590.70" y="366.50">0.00</text>
<line x1="588.60" y1="355.46" x2="589.90" y2="355.46" stroke="#777" stroke-width="0.5"/>
<text class="cb" x="590.70" y="357.51">0.04</text>
<line x1="588.60" y1="346.48" x2="589.90" y2="346.48" stroke="#777" stroke-width="0.5"/>
<text class="cb" x="590.70" y="348.53">0.08</text>
<line x1="588.60" y1="337.49" x2="589.90" y2="337.49" stroke="#777" stroke-width="0.5"/>
<text class="cb" x="590.70" y="339.54">0.12</text>
<line x1="588.60" y1="328.51" x2="589.90" y2="328.51" stroke="#777" stroke-width="0.5"/>
<text class="cb" x="590.70" y="330.56">0.16</text>
<line x1="588.60" y1="319.52" x2="589.90" y2="319.52" stroke="#777" stroke-width="0.5"/>
<text class="cb" x="590.70" y="321.57">0.20</text>
<line x1="588.60" y1="310.54" x2="589.90" y2="310.54" stroke="#777" stroke-width="0.5"/>
<text class="cb" x="590.70" y="312.59">0.24</text>
<line x1="588.60" y1="301.55" x2="589.90" y2="301.55" stroke="#777" stroke-width="0.5"/>
<text class="cb" x="590.70" y="303.60">0.28</text>
<line x1="588.60" y1="292.57" x2="589.90" y2="292.57" stroke="#777" stroke-width="0.5"/>
<text class="cb" x="590.70" y="294.62">0.32</text>
<line x1="727.35" y1="347.70" x2="738.55" y2="347.70" stroke="#000" stroke-width="1.3"/>
<text class="lab" x="738.80" y="355.85" text-anchor="end">100 pc</text>
<text class="title" x="583.60" y="199.95">CN(1<tspan class="sub" dy="2.5">1/2</tspan><tspan dy="-2.5">-0</tspan><tspan class="sub" dy="2.5">1/2</tspan><tspan dy="-2.5">)/CO(1-0) (4th highest PC2)</tspan></text>
<line class="tk" x1="598.72" y1="187.65" x2="598.72" y2="189.65"/>
<line class="tk" x1="598.72" y1="368.75" x2="598.72" y2="366.75"/>
<line class="tk" x1="578.00" y1="208.62" x2="580.00" y2="208.62"/>
<line class="tk" x1="758.60" y1="208.62" x2="756.60" y2="208.62"/>
<text class="lab" x="598.72" y="375.05" text-anchor="middle">10</text>
<line class="tk" x1="633.51" y1="187.65" x2="633.51" y2="189.65"/>
<line class="tk" x1="633.51" y1="368.75" x2="633.51" y2="366.75"/>
<line class="tk" x1="578.00" y1="243.41" x2="580.00" y2="243.41"/>
<line class="tk" x1="758.60" y1="243.41" x2="756.60" y2="243.41"/>
<text class="lab" x="633.51" y="375.05" text-anchor="middle">5</text>
<line class="tk" x1="668.30" y1="187.65" x2="668.30" y2="189.65"/>
<line class="tk" x1="668.30" y1="368.75" x2="668.30" y2="366.75"/>
<line class="tk" x1="578.00" y1="278.20" x2="580.00" y2="278.20"/>
<line class="tk" x1="758.60" y1="278.20" x2="756.60" y2="278.20"/>
<text class="lab" x="668.30" y="375.05" text-anchor="middle">0</text>
<line class="tk" x1="703.09" y1="187.65" x2="703.09" y2="189.65"/>
<line class="tk" x1="703.09" y1="368.75" x2="703.09" y2="366.75"/>
<line class="tk" x1="578.00" y1="312.99" x2="580.00" y2="312.99"/>
<line class="tk" x1="758.60" y1="312.99" x2="756.60" y2="312.99"/>
<text class="lab" x="703.09" y="375.05" text-anchor="middle">−5</text>
<line class="tk" x1="737.88" y1="187.65" x2="737.88" y2="189.65"/>
<line class="tk" x1="737.88" y1="368.75" x2="737.88" y2="366.75"/>
<line class="tk" x1="578.00" y1="347.78" x2="580.00" y2="347.78"/>
<line class="tk" x1="758.60" y1="347.78" x2="756.60" y2="347.78"/>
<text class="lab" x="737.88" y="375.05" text-anchor="middle">−10</text>
<text class="lab" x="668.30" y="381.65" text-anchor="middle">R.A. offset (arcsec)</text>
<rect x="578.00" y="187.65" width="180.60" height="181.10" fill="none" stroke="#585858" stroke-width="1.2"/>
</svg>
</body></html>
